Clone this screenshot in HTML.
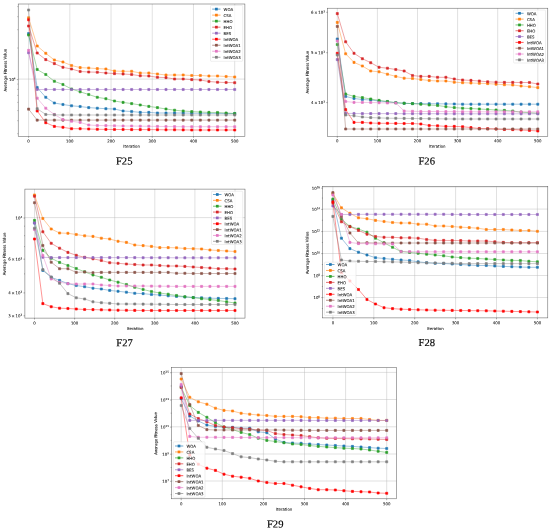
<!DOCTYPE html>
<html lang="en"><head><meta charset="utf-8"><title>Convergence curves F25-F29</title>
<style>html,body{margin:0;padding:0;background:#fff}body{width:550px;height:531px;overflow:hidden}svg{display:block}.s{font-family:"DejaVu Sans","Liberation Sans",sans-serif;font-size:3.9px;fill:#111;stroke:#111;stroke-width:0.07px}.t{font-family:"Liberation Serif","DejaVu Serif",serif;font-size:10.6px;fill:#000;stroke:#000;stroke-width:0.15px}text{text-rendering:geometricPrecision}</style></head><body>
<svg width="550" height="531" viewBox="0 0 550 531">
<rect width="550" height="531" fill="#fff"/>
<g id="F25">
<defs><clipPath id="cp0"><rect x="18.2" y="4" width="226.7" height="132.4"/></clipPath></defs>
<path d="M28.6 4V136.4M69.82 4V136.4M111.04 4V136.4M152.26 4V136.4M193.48 4V136.4M234.7 4V136.4M18.2 79.1H244.9" stroke="#b8b8b8" stroke-width="0.42" fill="none"/>
<g clip-path="url(#cp0)">
<polyline points="28.6,33.6 37.19,87.6 45.78,97.3 54.36,103 62.95,104.5 71.54,105.8 80.12,106.5 88.71,107.6 97.3,108.2 105.89,108.7 114.47,109 123.06,111 131.65,111.5 140.24,112.4 148.83,112.4 157.41,113 166,113 174.59,113 183.18,113 191.76,113.2 200.35,113.3 208.94,113.4 217.53,113.5 226.11,113.6 234.7,113.6" fill="none" stroke="#1f77b4" stroke-width="0.42" stroke-linejoin="round"/>
<path d="M27.55 32.55h2.1v2.1h-2.1zM36.14 86.55h2.1v2.1h-2.1zM44.73 96.25h2.1v2.1h-2.1zM53.31 101.95h2.1v2.1h-2.1zM61.9 103.45h2.1v2.1h-2.1zM70.49 104.75h2.1v2.1h-2.1zM79.08 105.45h2.1v2.1h-2.1zM87.66 106.55h2.1v2.1h-2.1zM96.25 107.15h2.1v2.1h-2.1zM104.84 107.65h2.1v2.1h-2.1zM113.42 107.95h2.1v2.1h-2.1zM122.01 109.95h2.1v2.1h-2.1zM130.6 110.45h2.1v2.1h-2.1zM139.19 111.35h2.1v2.1h-2.1zM147.78 111.35h2.1v2.1h-2.1zM156.36 111.95h2.1v2.1h-2.1zM164.95 111.95h2.1v2.1h-2.1zM173.54 111.95h2.1v2.1h-2.1zM182.12 111.95h2.1v2.1h-2.1zM190.71 112.15h2.1v2.1h-2.1zM199.3 112.25h2.1v2.1h-2.1zM207.89 112.35h2.1v2.1h-2.1zM216.47 112.45h2.1v2.1h-2.1zM225.06 112.55h2.1v2.1h-2.1zM233.65 112.55h2.1v2.1h-2.1z" fill="#1f77b4" stroke="#1f77b4" stroke-width="0.6" stroke-linejoin="round"/>
<polyline points="28.6,17.8 37.19,46 45.78,53.3 54.36,60 62.95,62 71.54,65.5 80.12,67.6 88.71,68 97.3,68.6 105.89,69 114.47,71 123.06,71.3 131.65,71.3 140.24,73 148.83,73 157.41,74 166,75 174.59,75 183.18,75 191.76,75.5 200.35,75.5 208.94,76 217.53,76 226.11,76.5 234.7,77" fill="none" stroke="#ff7f0e" stroke-width="0.42" stroke-linejoin="round"/>
<path d="M27.55 16.75h2.1v2.1h-2.1zM36.14 44.95h2.1v2.1h-2.1zM44.73 52.25h2.1v2.1h-2.1zM53.31 58.95h2.1v2.1h-2.1zM61.9 60.95h2.1v2.1h-2.1zM70.49 64.45h2.1v2.1h-2.1zM79.08 66.55h2.1v2.1h-2.1zM87.66 66.95h2.1v2.1h-2.1zM96.25 67.55h2.1v2.1h-2.1zM104.84 67.95h2.1v2.1h-2.1zM113.42 69.95h2.1v2.1h-2.1zM122.01 70.25h2.1v2.1h-2.1zM130.6 70.25h2.1v2.1h-2.1zM139.19 71.95h2.1v2.1h-2.1zM147.78 71.95h2.1v2.1h-2.1zM156.36 72.95h2.1v2.1h-2.1zM164.95 73.95h2.1v2.1h-2.1zM173.54 73.95h2.1v2.1h-2.1zM182.12 73.95h2.1v2.1h-2.1zM190.71 74.45h2.1v2.1h-2.1zM199.3 74.45h2.1v2.1h-2.1zM207.89 74.95h2.1v2.1h-2.1zM216.47 74.95h2.1v2.1h-2.1zM225.06 75.45h2.1v2.1h-2.1zM233.65 75.95h2.1v2.1h-2.1z" fill="#ff7f0e" stroke="#ff7f0e" stroke-width="0.6" stroke-linejoin="round"/>
<polyline points="28.6,35 37.19,69.5 45.78,74.5 54.36,81.3 62.95,84.5 71.54,89 80.12,91.8 88.71,94.5 97.3,97.3 105.89,98.7 114.47,101 123.06,102.4 131.65,103.6 140.24,105 148.83,106.4 157.41,107.6 166,109 174.59,110.2 183.18,111 191.76,111.6 200.35,112 208.94,112.4 217.53,112.5 226.11,113 234.7,113.5" fill="none" stroke="#2ca02c" stroke-width="0.42" stroke-linejoin="round"/>
<path d="M27.55 33.95h2.1v2.1h-2.1zM36.14 68.45h2.1v2.1h-2.1zM44.73 73.45h2.1v2.1h-2.1zM53.31 80.25h2.1v2.1h-2.1zM61.9 83.45h2.1v2.1h-2.1zM70.49 87.95h2.1v2.1h-2.1zM79.08 90.75h2.1v2.1h-2.1zM87.66 93.45h2.1v2.1h-2.1zM96.25 96.25h2.1v2.1h-2.1zM104.84 97.65h2.1v2.1h-2.1zM113.42 99.95h2.1v2.1h-2.1zM122.01 101.35h2.1v2.1h-2.1zM130.6 102.55h2.1v2.1h-2.1zM139.19 103.95h2.1v2.1h-2.1zM147.78 105.35h2.1v2.1h-2.1zM156.36 106.55h2.1v2.1h-2.1zM164.95 107.95h2.1v2.1h-2.1zM173.54 109.15h2.1v2.1h-2.1zM182.12 109.95h2.1v2.1h-2.1zM190.71 110.55h2.1v2.1h-2.1zM199.3 110.95h2.1v2.1h-2.1zM207.89 111.35h2.1v2.1h-2.1zM216.47 111.45h2.1v2.1h-2.1zM225.06 111.95h2.1v2.1h-2.1zM233.65 112.45h2.1v2.1h-2.1z" fill="#2ca02c" stroke="#2ca02c" stroke-width="0.6" stroke-linejoin="round"/>
<polyline points="28.6,26 37.19,53 45.78,59.6 54.36,63.6 62.95,67.3 71.54,69 80.12,71.5 88.71,72 97.3,72.2 105.89,73 114.47,73.6 123.06,74 131.65,74.5 140.24,75.8 148.83,76 157.41,77.3 166,77.6 174.59,79 183.18,79 191.76,79.6 200.35,80 208.94,81.5 217.53,82.2 226.11,82.5 234.7,82.7" fill="none" stroke="#d62728" stroke-width="0.42" stroke-linejoin="round"/>
<path d="M27.55 24.95h2.1v2.1h-2.1zM36.14 51.95h2.1v2.1h-2.1zM44.73 58.55h2.1v2.1h-2.1zM53.31 62.55h2.1v2.1h-2.1zM61.9 66.25h2.1v2.1h-2.1zM70.49 67.95h2.1v2.1h-2.1zM79.08 70.45h2.1v2.1h-2.1zM87.66 70.95h2.1v2.1h-2.1zM96.25 71.15h2.1v2.1h-2.1zM104.84 71.95h2.1v2.1h-2.1zM113.42 72.55h2.1v2.1h-2.1zM122.01 72.95h2.1v2.1h-2.1zM130.6 73.45h2.1v2.1h-2.1zM139.19 74.75h2.1v2.1h-2.1zM147.78 74.95h2.1v2.1h-2.1zM156.36 76.25h2.1v2.1h-2.1zM164.95 76.55h2.1v2.1h-2.1zM173.54 77.95h2.1v2.1h-2.1zM182.12 77.95h2.1v2.1h-2.1zM190.71 78.55h2.1v2.1h-2.1zM199.3 78.95h2.1v2.1h-2.1zM207.89 80.45h2.1v2.1h-2.1zM216.47 81.15h2.1v2.1h-2.1zM225.06 81.45h2.1v2.1h-2.1zM233.65 81.65h2.1v2.1h-2.1z" fill="#d62728" stroke="#d62728" stroke-width="0.6" stroke-linejoin="round"/>
<polyline points="28.6,52.7 37.19,89.5 45.78,89.5 54.36,89.5 62.95,89.5 71.54,89.5 80.12,89.5 88.71,89.5 97.3,89.5 105.89,89.5 114.47,89.5 123.06,89.5 131.65,89.5 140.24,89.5 148.83,89.5 157.41,89.5 166,89.5 174.59,89.5 183.18,89.5 191.76,89.5 200.35,89.5 208.94,89.5 217.53,89.5 226.11,89.5 234.7,89.5" fill="none" stroke="#9467bd" stroke-width="0.42" stroke-linejoin="round"/>
<path d="M27.55 51.65h2.1v2.1h-2.1zM36.14 88.45h2.1v2.1h-2.1zM44.73 88.45h2.1v2.1h-2.1zM53.31 88.45h2.1v2.1h-2.1zM61.9 88.45h2.1v2.1h-2.1zM70.49 88.45h2.1v2.1h-2.1zM79.08 88.45h2.1v2.1h-2.1zM87.66 88.45h2.1v2.1h-2.1zM96.25 88.45h2.1v2.1h-2.1zM104.84 88.45h2.1v2.1h-2.1zM113.42 88.45h2.1v2.1h-2.1zM122.01 88.45h2.1v2.1h-2.1zM130.6 88.45h2.1v2.1h-2.1zM139.19 88.45h2.1v2.1h-2.1zM147.78 88.45h2.1v2.1h-2.1zM156.36 88.45h2.1v2.1h-2.1zM164.95 88.45h2.1v2.1h-2.1zM173.54 88.45h2.1v2.1h-2.1zM182.12 88.45h2.1v2.1h-2.1zM190.71 88.45h2.1v2.1h-2.1zM199.3 88.45h2.1v2.1h-2.1zM207.89 88.45h2.1v2.1h-2.1zM216.47 88.45h2.1v2.1h-2.1zM225.06 88.45h2.1v2.1h-2.1zM233.65 88.45h2.1v2.1h-2.1z" fill="#9467bd" stroke="#9467bd" stroke-width="0.6" stroke-linejoin="round"/>
<polyline points="28.6,19.8 37.19,111 45.78,122.7 54.36,126.4 62.95,127.3 71.54,128.7 80.12,128.7 88.71,129 97.3,129.3 105.89,129.4 114.47,129.5 123.06,129.5 131.65,129.6 140.24,129.6 148.83,129.6 157.41,129.7 166,129.8 174.59,129.8 183.18,129.9 191.76,130 200.35,130 208.94,130 217.53,130 226.11,130 234.7,130" fill="none" stroke="#ff0000" stroke-width="0.42" stroke-linejoin="round"/>
<path d="M27.55 18.75h2.1v2.1h-2.1zM36.14 109.95h2.1v2.1h-2.1zM44.73 121.65h2.1v2.1h-2.1zM53.31 125.35h2.1v2.1h-2.1zM61.9 126.25h2.1v2.1h-2.1zM70.49 127.65h2.1v2.1h-2.1zM79.08 127.65h2.1v2.1h-2.1zM87.66 127.95h2.1v2.1h-2.1zM96.25 128.25h2.1v2.1h-2.1zM104.84 128.35h2.1v2.1h-2.1zM113.42 128.45h2.1v2.1h-2.1zM122.01 128.45h2.1v2.1h-2.1zM130.6 128.55h2.1v2.1h-2.1zM139.19 128.55h2.1v2.1h-2.1zM147.78 128.55h2.1v2.1h-2.1zM156.36 128.65h2.1v2.1h-2.1zM164.95 128.75h2.1v2.1h-2.1zM173.54 128.75h2.1v2.1h-2.1zM182.12 128.85h2.1v2.1h-2.1zM190.71 128.95h2.1v2.1h-2.1zM199.3 128.95h2.1v2.1h-2.1zM207.89 128.95h2.1v2.1h-2.1zM216.47 128.95h2.1v2.1h-2.1zM225.06 128.95h2.1v2.1h-2.1zM233.65 128.95h2.1v2.1h-2.1z" fill="#ff0000" stroke="#ff0000" stroke-width="0.6" stroke-linejoin="round"/>
<polyline points="28.6,109.1 37.19,120.1 45.78,120.1 54.36,120.1 62.95,120.1 71.54,120.1 80.12,120.1 88.71,120.1 97.3,120.1 105.89,120.1 114.47,120.1 123.06,120.1 131.65,120.1 140.24,120.1 148.83,120.1 157.41,120.1 166,120.1 174.59,120.1 183.18,120.1 191.76,120.1 200.35,120.1 208.94,120.1 217.53,120.1 226.11,120.1 234.7,120.1" fill="none" stroke="#8c564b" stroke-width="0.42" stroke-linejoin="round"/>
<path d="M27.55 108.05h2.1v2.1h-2.1zM36.14 119.05h2.1v2.1h-2.1zM44.73 119.05h2.1v2.1h-2.1zM53.31 119.05h2.1v2.1h-2.1zM61.9 119.05h2.1v2.1h-2.1zM70.49 119.05h2.1v2.1h-2.1zM79.08 119.05h2.1v2.1h-2.1zM87.66 119.05h2.1v2.1h-2.1zM96.25 119.05h2.1v2.1h-2.1zM104.84 119.05h2.1v2.1h-2.1zM113.42 119.05h2.1v2.1h-2.1zM122.01 119.05h2.1v2.1h-2.1zM130.6 119.05h2.1v2.1h-2.1zM139.19 119.05h2.1v2.1h-2.1zM147.78 119.05h2.1v2.1h-2.1zM156.36 119.05h2.1v2.1h-2.1zM164.95 119.05h2.1v2.1h-2.1zM173.54 119.05h2.1v2.1h-2.1zM182.12 119.05h2.1v2.1h-2.1zM190.71 119.05h2.1v2.1h-2.1zM199.3 119.05h2.1v2.1h-2.1zM207.89 119.05h2.1v2.1h-2.1zM216.47 119.05h2.1v2.1h-2.1zM225.06 119.05h2.1v2.1h-2.1zM233.65 119.05h2.1v2.1h-2.1z" fill="#8c564b" stroke="#8c564b" stroke-width="0.6" stroke-linejoin="round"/>
<polyline points="28.6,50.4 37.19,98.2 45.78,108.2 54.36,114.5 62.95,119.5 71.54,121.3 80.12,122.4 88.71,125 97.3,125.5 105.89,125.6 114.47,125.8 123.06,126 131.65,126 140.24,126.2 148.83,126.3 157.41,126.4 166,126.5 174.59,126.6 183.18,126.7 191.76,126.7 200.35,126.7 208.94,126.7 217.53,126.7 226.11,126.7 234.7,126.7" fill="none" stroke="#e377c2" stroke-width="0.42" stroke-linejoin="round"/>
<path d="M27.55 49.35h2.1v2.1h-2.1zM36.14 97.15h2.1v2.1h-2.1zM44.73 107.15h2.1v2.1h-2.1zM53.31 113.45h2.1v2.1h-2.1zM61.9 118.45h2.1v2.1h-2.1zM70.49 120.25h2.1v2.1h-2.1zM79.08 121.35h2.1v2.1h-2.1zM87.66 123.95h2.1v2.1h-2.1zM96.25 124.45h2.1v2.1h-2.1zM104.84 124.55h2.1v2.1h-2.1zM113.42 124.75h2.1v2.1h-2.1zM122.01 124.95h2.1v2.1h-2.1zM130.6 124.95h2.1v2.1h-2.1zM139.19 125.15h2.1v2.1h-2.1zM147.78 125.25h2.1v2.1h-2.1zM156.36 125.35h2.1v2.1h-2.1zM164.95 125.45h2.1v2.1h-2.1zM173.54 125.55h2.1v2.1h-2.1zM182.12 125.65h2.1v2.1h-2.1zM190.71 125.65h2.1v2.1h-2.1zM199.3 125.65h2.1v2.1h-2.1zM207.89 125.65h2.1v2.1h-2.1zM216.47 125.65h2.1v2.1h-2.1zM225.06 125.65h2.1v2.1h-2.1zM233.65 125.65h2.1v2.1h-2.1z" fill="#e377c2" stroke="#e377c2" stroke-width="0.6" stroke-linejoin="round"/>
<polyline points="28.6,10 37.19,108.7 45.78,114.5 54.36,114.8 62.95,115 71.54,115 80.12,115 88.71,115 97.3,115 105.89,115 114.47,115 123.06,115 131.65,115 140.24,115 148.83,115 157.41,115 166,115 174.59,115 183.18,115 191.76,115 200.35,115 208.94,115 217.53,115 226.11,115 234.7,115" fill="none" stroke="#7f7f7f" stroke-width="0.42" stroke-linejoin="round"/>
<path d="M27.55 8.95h2.1v2.1h-2.1zM36.14 107.65h2.1v2.1h-2.1zM44.73 113.45h2.1v2.1h-2.1zM53.31 113.75h2.1v2.1h-2.1zM61.9 113.95h2.1v2.1h-2.1zM70.49 113.95h2.1v2.1h-2.1zM79.08 113.95h2.1v2.1h-2.1zM87.66 113.95h2.1v2.1h-2.1zM96.25 113.95h2.1v2.1h-2.1zM104.84 113.95h2.1v2.1h-2.1zM113.42 113.95h2.1v2.1h-2.1zM122.01 113.95h2.1v2.1h-2.1zM130.6 113.95h2.1v2.1h-2.1zM139.19 113.95h2.1v2.1h-2.1zM147.78 113.95h2.1v2.1h-2.1zM156.36 113.95h2.1v2.1h-2.1zM164.95 113.95h2.1v2.1h-2.1zM173.54 113.95h2.1v2.1h-2.1zM182.12 113.95h2.1v2.1h-2.1zM190.71 113.95h2.1v2.1h-2.1zM199.3 113.95h2.1v2.1h-2.1zM207.89 113.95h2.1v2.1h-2.1zM216.47 113.95h2.1v2.1h-2.1zM225.06 113.95h2.1v2.1h-2.1zM233.65 113.95h2.1v2.1h-2.1z" fill="#7f7f7f" stroke="#7f7f7f" stroke-width="0.6" stroke-linejoin="round"/>
</g>
<rect x="18.2" y="4" width="226.7" height="132.4" fill="none" stroke="#555" stroke-width="0.5"/>
<path d="M28.6 136.4v1.4M69.82 136.4v1.4M111.04 136.4v1.4M152.26 136.4v1.4M193.48 136.4v1.4M234.7 136.4v1.4M18.2 79.6h-1.4M18.2 6.6h-0.8M18.2 16.7h-0.8M18.2 29.7h-0.8M18.2 48h-0.8M18.2 84.1h-0.8M18.2 89.4h-0.8M18.2 95.4h-0.8M18.2 102.4h-0.8M18.2 110.6h-0.8M18.2 120.7h-0.8M18.2 133.7h-0.8" stroke="#333" stroke-width="0.4" fill="none"/>
<text class="s" transform="translate(28.6 142.43) rotate(0.03)" text-anchor="middle">0</text>
<text class="s" transform="translate(69.82 142.43) rotate(0.03)" text-anchor="middle">100</text>
<text class="s" transform="translate(111.04 142.43) rotate(0.03)" text-anchor="middle">200</text>
<text class="s" transform="translate(152.26 142.43) rotate(0.03)" text-anchor="middle">300</text>
<text class="s" transform="translate(193.48 142.43) rotate(0.03)" text-anchor="middle">400</text>
<text class="s" transform="translate(234.7 142.43) rotate(0.03)" text-anchor="middle">500</text>
<text class="s" transform="translate(15.6 81.03) rotate(0.03)" text-anchor="end">10<tspan dy="-1.5" font-size="2.73">4</tspan></text>
<text class="s" transform="translate(131.6 147.73) rotate(0.03)" text-anchor="middle">Iteration</text>
<text class="s" transform="translate(6.63 70.2) rotate(-90.03)" text-anchor="middle">Average Fitness Value</text>
<rect x="210.5" y="5.5" width="32.2" height="55.8" rx="0.8" fill="#fff" fill-opacity="0.8" stroke="#d6d6d6" stroke-width="0.4"/>
<path d="M212.2 9.1H220.5" stroke="#1f77b4" stroke-width="0.65"/>
<rect x="215.05" y="7.75" width="2.7" height="2.7" fill="#1f77b4"/>
<text class="s" transform="translate(223.6 10.93) rotate(0.03)">WOA</text>
<path d="M212.2 15.12H220.5" stroke="#ff7f0e" stroke-width="0.65"/>
<rect x="215.05" y="13.77" width="2.7" height="2.7" fill="#ff7f0e"/>
<text class="s" transform="translate(223.6 16.95) rotate(0.03)">CSA</text>
<path d="M212.2 21.14H220.5" stroke="#2ca02c" stroke-width="0.65"/>
<rect x="215.05" y="19.79" width="2.7" height="2.7" fill="#2ca02c"/>
<text class="s" transform="translate(223.6 22.97) rotate(0.03)">HHO</text>
<path d="M212.2 27.16H220.5" stroke="#d62728" stroke-width="0.65"/>
<rect x="215.05" y="25.81" width="2.7" height="2.7" fill="#d62728"/>
<text class="s" transform="translate(223.6 28.99) rotate(0.03)">EHO</text>
<path d="M212.2 33.18H220.5" stroke="#9467bd" stroke-width="0.65"/>
<rect x="215.05" y="31.83" width="2.7" height="2.7" fill="#9467bd"/>
<text class="s" transform="translate(223.6 35.01) rotate(0.03)">BES</text>
<path d="M212.2 39.2H220.5" stroke="#ff0000" stroke-width="0.65"/>
<rect x="215.05" y="37.85" width="2.7" height="2.7" fill="#ff0000"/>
<text class="s" transform="translate(223.6 41.03) rotate(0.03)">IntWOA</text>
<path d="M212.2 45.22H220.5" stroke="#8c564b" stroke-width="0.65"/>
<rect x="215.05" y="43.87" width="2.7" height="2.7" fill="#8c564b"/>
<text class="s" transform="translate(223.6 47.05) rotate(0.03)">IntWOA1</text>
<path d="M212.2 51.24H220.5" stroke="#e377c2" stroke-width="0.65"/>
<rect x="215.05" y="49.89" width="2.7" height="2.7" fill="#e377c2"/>
<text class="s" transform="translate(223.6 53.07) rotate(0.03)">IntWOA2</text>
<path d="M212.2 57.26H220.5" stroke="#7f7f7f" stroke-width="0.65"/>
<rect x="215.05" y="55.91" width="2.7" height="2.7" fill="#7f7f7f"/>
<text class="s" transform="translate(223.6 59.09) rotate(0.03)">IntWOA3</text>
<text class="t" transform="translate(124.2 164.45) rotate(0.03)" text-anchor="middle">F25</text>
</g>
<g id="F26">
<defs><clipPath id="cp1"><rect x="327.6" y="8.2" width="220.2" height="128.2"/></clipPath></defs>
<path d="M337.3 8.2V136.4M377.4 8.2V136.4M417.5 8.2V136.4M457.6 8.2V136.4M497.7 8.2V136.4M537.8 8.2V136.4" stroke="#b8b8b8" stroke-width="0.42" fill="none"/>
<g clip-path="url(#cp1)">
<polyline points="337.3,39 345.65,96.4 354.01,98.5 362.36,99.5 370.72,100 379.07,101 387.43,101.8 395.78,102.7 404.13,103.3 412.49,103.6 420.84,103.6 429.2,103.7 437.55,103.8 445.9,103.9 454.26,104 462.61,104.2 470.97,104.2 479.32,104.2 487.67,104.2 496.03,104.2 504.38,104.2 512.74,104.2 521.09,104.2 529.45,104.2 537.8,104.2" fill="none" stroke="#1f77b4" stroke-width="0.42" stroke-linejoin="round"/>
<path d="M336.25 37.95h2.1v2.1h-2.1zM344.6 95.35h2.1v2.1h-2.1zM352.96 97.45h2.1v2.1h-2.1zM361.31 98.45h2.1v2.1h-2.1zM369.67 98.95h2.1v2.1h-2.1zM378.02 99.95h2.1v2.1h-2.1zM386.38 100.75h2.1v2.1h-2.1zM394.73 101.65h2.1v2.1h-2.1zM403.08 102.25h2.1v2.1h-2.1zM411.44 102.55h2.1v2.1h-2.1zM419.79 102.55h2.1v2.1h-2.1zM428.15 102.65h2.1v2.1h-2.1zM436.5 102.75h2.1v2.1h-2.1zM444.85 102.85h2.1v2.1h-2.1zM453.21 102.95h2.1v2.1h-2.1zM461.56 103.15h2.1v2.1h-2.1zM469.92 103.15h2.1v2.1h-2.1zM478.27 103.15h2.1v2.1h-2.1zM486.62 103.15h2.1v2.1h-2.1zM494.98 103.15h2.1v2.1h-2.1zM503.33 103.15h2.1v2.1h-2.1zM511.69 103.15h2.1v2.1h-2.1zM520.04 103.15h2.1v2.1h-2.1zM528.4 103.15h2.1v2.1h-2.1zM536.75 103.15h2.1v2.1h-2.1z" fill="#1f77b4" stroke="#1f77b4" stroke-width="0.6" stroke-linejoin="round"/>
<polyline points="337.3,22.4 345.65,53.8 354.01,62.4 362.36,66 370.72,71 379.07,71.8 387.43,74.2 395.78,76.4 404.13,78.2 412.49,78.5 420.84,79.5 429.2,80.5 437.55,81 445.9,81 454.26,82.2 462.61,82.7 470.97,83 479.32,83.3 487.67,83.6 496.03,84.2 504.38,84.7 512.74,85 521.09,86 529.45,86.7 537.8,87.6" fill="none" stroke="#ff7f0e" stroke-width="0.42" stroke-linejoin="round"/>
<path d="M336.25 21.35h2.1v2.1h-2.1zM344.6 52.75h2.1v2.1h-2.1zM352.96 61.35h2.1v2.1h-2.1zM361.31 64.95h2.1v2.1h-2.1zM369.67 69.95h2.1v2.1h-2.1zM378.02 70.75h2.1v2.1h-2.1zM386.38 73.15h2.1v2.1h-2.1zM394.73 75.35h2.1v2.1h-2.1zM403.08 77.15h2.1v2.1h-2.1zM411.44 77.45h2.1v2.1h-2.1zM419.79 78.45h2.1v2.1h-2.1zM428.15 79.45h2.1v2.1h-2.1zM436.5 79.95h2.1v2.1h-2.1zM444.85 79.95h2.1v2.1h-2.1zM453.21 81.15h2.1v2.1h-2.1zM461.56 81.65h2.1v2.1h-2.1zM469.92 81.95h2.1v2.1h-2.1zM478.27 82.25h2.1v2.1h-2.1zM486.62 82.55h2.1v2.1h-2.1zM494.98 83.15h2.1v2.1h-2.1zM503.33 83.65h2.1v2.1h-2.1zM511.69 83.95h2.1v2.1h-2.1zM520.04 84.95h2.1v2.1h-2.1zM528.4 85.65h2.1v2.1h-2.1zM536.75 86.55h2.1v2.1h-2.1z" fill="#ff7f0e" stroke="#ff7f0e" stroke-width="0.6" stroke-linejoin="round"/>
<polyline points="337.3,44.5 345.65,94 354.01,96.4 362.36,97.6 370.72,99 379.07,100.4 387.43,101.5 395.78,102.7 404.13,103.3 412.49,103.6 420.84,104.2 429.2,105 437.55,105.5 445.9,106.7 454.26,107.6 462.61,108.2 470.97,108.5 479.32,109 487.67,109.5 496.03,110 504.38,110.4 512.74,111 521.09,112.2 529.45,112.7 537.8,113.3" fill="none" stroke="#2ca02c" stroke-width="0.42" stroke-linejoin="round"/>
<path d="M336.25 43.45h2.1v2.1h-2.1zM344.6 92.95h2.1v2.1h-2.1zM352.96 95.35h2.1v2.1h-2.1zM361.31 96.55h2.1v2.1h-2.1zM369.67 97.95h2.1v2.1h-2.1zM378.02 99.35h2.1v2.1h-2.1zM386.38 100.45h2.1v2.1h-2.1zM394.73 101.65h2.1v2.1h-2.1zM403.08 102.25h2.1v2.1h-2.1zM411.44 102.55h2.1v2.1h-2.1zM419.79 103.15h2.1v2.1h-2.1zM428.15 103.95h2.1v2.1h-2.1zM436.5 104.45h2.1v2.1h-2.1zM444.85 105.65h2.1v2.1h-2.1zM453.21 106.55h2.1v2.1h-2.1zM461.56 107.15h2.1v2.1h-2.1zM469.92 107.45h2.1v2.1h-2.1zM478.27 107.95h2.1v2.1h-2.1zM486.62 108.45h2.1v2.1h-2.1zM494.98 108.95h2.1v2.1h-2.1zM503.33 109.35h2.1v2.1h-2.1zM511.69 109.95h2.1v2.1h-2.1zM520.04 111.15h2.1v2.1h-2.1zM528.4 111.65h2.1v2.1h-2.1zM536.75 112.25h2.1v2.1h-2.1z" fill="#2ca02c" stroke="#2ca02c" stroke-width="0.6" stroke-linejoin="round"/>
<polyline points="337.3,13.6 345.65,41.8 354.01,53.3 362.36,58.7 370.72,62.7 379.07,67.3 387.43,68.2 395.78,69.5 404.13,71 412.49,75.5 420.84,76.4 429.2,76.4 437.55,77.3 445.9,77.3 454.26,79 462.61,80 470.97,80.4 479.32,81 487.67,81.8 496.03,82.2 504.38,82.4 512.74,82.4 521.09,82.5 529.45,82.5 537.8,84" fill="none" stroke="#d62728" stroke-width="0.42" stroke-linejoin="round"/>
<path d="M336.25 12.55h2.1v2.1h-2.1zM344.6 40.75h2.1v2.1h-2.1zM352.96 52.25h2.1v2.1h-2.1zM361.31 57.65h2.1v2.1h-2.1zM369.67 61.65h2.1v2.1h-2.1zM378.02 66.25h2.1v2.1h-2.1zM386.38 67.15h2.1v2.1h-2.1zM394.73 68.45h2.1v2.1h-2.1zM403.08 69.95h2.1v2.1h-2.1zM411.44 74.45h2.1v2.1h-2.1zM419.79 75.35h2.1v2.1h-2.1zM428.15 75.35h2.1v2.1h-2.1zM436.5 76.25h2.1v2.1h-2.1zM444.85 76.25h2.1v2.1h-2.1zM453.21 77.95h2.1v2.1h-2.1zM461.56 78.95h2.1v2.1h-2.1zM469.92 79.35h2.1v2.1h-2.1zM478.27 79.95h2.1v2.1h-2.1zM486.62 80.75h2.1v2.1h-2.1zM494.98 81.15h2.1v2.1h-2.1zM503.33 81.35h2.1v2.1h-2.1zM511.69 81.35h2.1v2.1h-2.1zM520.04 81.45h2.1v2.1h-2.1zM528.4 81.45h2.1v2.1h-2.1zM536.75 82.95h2.1v2.1h-2.1z" fill="#d62728" stroke="#d62728" stroke-width="0.6" stroke-linejoin="round"/>
<polyline points="337.3,59.6 345.65,113.3 354.01,113.5 362.36,113.6 370.72,113.6 379.07,113.6 387.43,113.6 395.78,113.6 404.13,113.7 412.49,113.7 420.84,113.7 429.2,113.7 437.55,113.7 445.9,113.8 454.26,113.8 462.61,113.8 470.97,113.8 479.32,113.8 487.67,113.8 496.03,113.8 504.38,113.8 512.74,113.8 521.09,113.8 529.45,113.8 537.8,113.8" fill="none" stroke="#9467bd" stroke-width="0.42" stroke-linejoin="round"/>
<path d="M336.25 58.55h2.1v2.1h-2.1zM344.6 112.25h2.1v2.1h-2.1zM352.96 112.45h2.1v2.1h-2.1zM361.31 112.55h2.1v2.1h-2.1zM369.67 112.55h2.1v2.1h-2.1zM378.02 112.55h2.1v2.1h-2.1zM386.38 112.55h2.1v2.1h-2.1zM394.73 112.55h2.1v2.1h-2.1zM403.08 112.65h2.1v2.1h-2.1zM411.44 112.65h2.1v2.1h-2.1zM419.79 112.65h2.1v2.1h-2.1zM428.15 112.65h2.1v2.1h-2.1zM436.5 112.65h2.1v2.1h-2.1zM444.85 112.75h2.1v2.1h-2.1zM453.21 112.75h2.1v2.1h-2.1zM461.56 112.75h2.1v2.1h-2.1zM469.92 112.75h2.1v2.1h-2.1zM478.27 112.75h2.1v2.1h-2.1zM486.62 112.75h2.1v2.1h-2.1zM494.98 112.75h2.1v2.1h-2.1zM503.33 112.75h2.1v2.1h-2.1zM511.69 112.75h2.1v2.1h-2.1zM520.04 112.75h2.1v2.1h-2.1zM528.4 112.75h2.1v2.1h-2.1zM536.75 112.75h2.1v2.1h-2.1z" fill="#9467bd" stroke="#9467bd" stroke-width="0.6" stroke-linejoin="round"/>
<polyline points="337.3,53.3 345.65,109.6 354.01,122.4 362.36,122.4 370.72,123 379.07,123.3 387.43,123.3 395.78,123.4 404.13,123.5 412.49,123.5 420.84,124 429.2,125.5 437.55,125.8 445.9,126.4 454.26,126.4 462.61,126.7 470.97,127.6 479.32,128.5 487.67,128.7 496.03,129 504.38,129.5 512.74,129.6 521.09,130 529.45,130.4 537.8,131" fill="none" stroke="#ff0000" stroke-width="0.42" stroke-linejoin="round"/>
<path d="M336.25 52.25h2.1v2.1h-2.1zM344.6 108.55h2.1v2.1h-2.1zM352.96 121.35h2.1v2.1h-2.1zM361.31 121.35h2.1v2.1h-2.1zM369.67 121.95h2.1v2.1h-2.1zM378.02 122.25h2.1v2.1h-2.1zM386.38 122.25h2.1v2.1h-2.1zM394.73 122.35h2.1v2.1h-2.1zM403.08 122.45h2.1v2.1h-2.1zM411.44 122.45h2.1v2.1h-2.1zM419.79 122.95h2.1v2.1h-2.1zM428.15 124.45h2.1v2.1h-2.1zM436.5 124.75h2.1v2.1h-2.1zM444.85 125.35h2.1v2.1h-2.1zM453.21 125.35h2.1v2.1h-2.1zM461.56 125.65h2.1v2.1h-2.1zM469.92 126.55h2.1v2.1h-2.1zM478.27 127.45h2.1v2.1h-2.1zM486.62 127.65h2.1v2.1h-2.1zM494.98 127.95h2.1v2.1h-2.1zM503.33 128.45h2.1v2.1h-2.1zM511.69 128.55h2.1v2.1h-2.1zM520.04 128.95h2.1v2.1h-2.1zM528.4 129.35h2.1v2.1h-2.1zM536.75 129.95h2.1v2.1h-2.1z" fill="#ff0000" stroke="#ff0000" stroke-width="0.6" stroke-linejoin="round"/>
<polyline points="337.3,26.4 345.65,129 354.01,129 362.36,129 370.72,129 379.07,129 387.43,129 395.78,129 404.13,129 412.49,129 420.84,129 429.2,129 437.55,129 445.9,129 454.26,129 462.61,129 470.97,129 479.32,129 487.67,129 496.03,129 504.38,129 512.74,129 521.09,129 529.45,129 537.8,129" fill="none" stroke="#8c564b" stroke-width="0.42" stroke-linejoin="round"/>
<path d="M336.25 25.35h2.1v2.1h-2.1zM344.6 127.95h2.1v2.1h-2.1zM352.96 127.95h2.1v2.1h-2.1zM361.31 127.95h2.1v2.1h-2.1zM369.67 127.95h2.1v2.1h-2.1zM378.02 127.95h2.1v2.1h-2.1zM386.38 127.95h2.1v2.1h-2.1zM394.73 127.95h2.1v2.1h-2.1zM403.08 127.95h2.1v2.1h-2.1zM411.44 127.95h2.1v2.1h-2.1zM419.79 127.95h2.1v2.1h-2.1zM428.15 127.95h2.1v2.1h-2.1zM436.5 127.95h2.1v2.1h-2.1zM444.85 127.95h2.1v2.1h-2.1zM453.21 127.95h2.1v2.1h-2.1zM461.56 127.95h2.1v2.1h-2.1zM469.92 127.95h2.1v2.1h-2.1zM478.27 127.95h2.1v2.1h-2.1zM486.62 127.95h2.1v2.1h-2.1zM494.98 127.95h2.1v2.1h-2.1zM503.33 127.95h2.1v2.1h-2.1zM511.69 127.95h2.1v2.1h-2.1zM520.04 127.95h2.1v2.1h-2.1zM528.4 127.95h2.1v2.1h-2.1zM536.75 127.95h2.1v2.1h-2.1z" fill="#8c564b" stroke="#8c564b" stroke-width="0.6" stroke-linejoin="round"/>
<polyline points="337.3,41 345.65,101.5 354.01,102.4 362.36,102.4 370.72,102.5 379.07,102.7 387.43,103 395.78,103 404.13,111 412.49,111.3 420.84,111.5 429.2,111.5 437.55,111.5 445.9,111.6 454.26,111.6 462.61,111.7 470.97,111.7 479.32,111.8 487.67,111.8 496.03,111.8 504.38,111.8 512.74,111.8 521.09,111.8 529.45,111.8 537.8,111.8" fill="none" stroke="#e377c2" stroke-width="0.42" stroke-linejoin="round"/>
<path d="M336.25 39.95h2.1v2.1h-2.1zM344.6 100.45h2.1v2.1h-2.1zM352.96 101.35h2.1v2.1h-2.1zM361.31 101.35h2.1v2.1h-2.1zM369.67 101.45h2.1v2.1h-2.1zM378.02 101.65h2.1v2.1h-2.1zM386.38 101.95h2.1v2.1h-2.1zM394.73 101.95h2.1v2.1h-2.1zM403.08 109.95h2.1v2.1h-2.1zM411.44 110.25h2.1v2.1h-2.1zM419.79 110.45h2.1v2.1h-2.1zM428.15 110.45h2.1v2.1h-2.1zM436.5 110.45h2.1v2.1h-2.1zM444.85 110.55h2.1v2.1h-2.1zM453.21 110.55h2.1v2.1h-2.1zM461.56 110.65h2.1v2.1h-2.1zM469.92 110.65h2.1v2.1h-2.1zM478.27 110.75h2.1v2.1h-2.1zM486.62 110.75h2.1v2.1h-2.1zM494.98 110.75h2.1v2.1h-2.1zM503.33 110.75h2.1v2.1h-2.1zM511.69 110.75h2.1v2.1h-2.1zM520.04 110.75h2.1v2.1h-2.1zM528.4 110.75h2.1v2.1h-2.1zM536.75 110.75h2.1v2.1h-2.1z" fill="#e377c2" stroke="#e377c2" stroke-width="0.6" stroke-linejoin="round"/>
<polyline points="337.3,55 345.65,115 354.01,115.8 362.36,117 370.72,117.6 379.07,117.9 387.43,118.2 395.78,118.3 404.13,118.4 412.49,118.5 420.84,118.6 429.2,118.7 437.55,118.8 445.9,118.9 454.26,119 462.61,119 470.97,119 479.32,119 487.67,119 496.03,119 504.38,119 512.74,119 521.09,119 529.45,119 537.8,119" fill="none" stroke="#7f7f7f" stroke-width="0.42" stroke-linejoin="round"/>
<path d="M336.25 53.95h2.1v2.1h-2.1zM344.6 113.95h2.1v2.1h-2.1zM352.96 114.75h2.1v2.1h-2.1zM361.31 115.95h2.1v2.1h-2.1zM369.67 116.55h2.1v2.1h-2.1zM378.02 116.85h2.1v2.1h-2.1zM386.38 117.15h2.1v2.1h-2.1zM394.73 117.25h2.1v2.1h-2.1zM403.08 117.35h2.1v2.1h-2.1zM411.44 117.45h2.1v2.1h-2.1zM419.79 117.55h2.1v2.1h-2.1zM428.15 117.65h2.1v2.1h-2.1zM436.5 117.75h2.1v2.1h-2.1zM444.85 117.85h2.1v2.1h-2.1zM453.21 117.95h2.1v2.1h-2.1zM461.56 117.95h2.1v2.1h-2.1zM469.92 117.95h2.1v2.1h-2.1zM478.27 117.95h2.1v2.1h-2.1zM486.62 117.95h2.1v2.1h-2.1zM494.98 117.95h2.1v2.1h-2.1zM503.33 117.95h2.1v2.1h-2.1zM511.69 117.95h2.1v2.1h-2.1zM520.04 117.95h2.1v2.1h-2.1zM528.4 117.95h2.1v2.1h-2.1zM536.75 117.95h2.1v2.1h-2.1z" fill="#7f7f7f" stroke="#7f7f7f" stroke-width="0.6" stroke-linejoin="round"/>
</g>
<rect x="327.6" y="8.2" width="220.2" height="128.2" fill="none" stroke="#555" stroke-width="0.5"/>
<path d="M337.3 136.4v1.4M377.4 136.4v1.4M417.5 136.4v1.4M457.6 136.4v1.4M497.7 136.4v1.4M537.8 136.4v1.4M327.6 12.3h-1.4M327.6 52.7h-1.4M327.6 102.6h-1.4" stroke="#333" stroke-width="0.4" fill="none"/>
<text class="s" transform="translate(337.3 142.33) rotate(0.03)" text-anchor="middle">0</text>
<text class="s" transform="translate(377.4 142.33) rotate(0.03)" text-anchor="middle">100</text>
<text class="s" transform="translate(417.5 142.33) rotate(0.03)" text-anchor="middle">200</text>
<text class="s" transform="translate(457.6 142.33) rotate(0.03)" text-anchor="middle">300</text>
<text class="s" transform="translate(497.7 142.33) rotate(0.03)" text-anchor="middle">400</text>
<text class="s" transform="translate(537.8 142.33) rotate(0.03)" text-anchor="middle">500</text>
<text class="s" transform="translate(325 13.73) rotate(0.03)" text-anchor="end">6 × 10<tspan dy="-1.5" font-size="2.73">3</tspan></text>
<text class="s" transform="translate(325 54.13) rotate(0.03)" text-anchor="end">5 × 10<tspan dy="-1.5" font-size="2.73">3</tspan></text>
<text class="s" transform="translate(325 104.03) rotate(0.03)" text-anchor="end">4 × 10<tspan dy="-1.5" font-size="2.73">3</tspan></text>
<text class="s" transform="translate(437.3 147.83) rotate(0.03)" text-anchor="middle">Iteration</text>
<text class="s" transform="translate(308.73 72.2) rotate(-90.03)" text-anchor="middle">Average Fitness Value</text>
<rect x="513.6" y="10" width="31.9" height="53" rx="0.8" fill="#fff" fill-opacity="0.8" stroke="#d6d6d6" stroke-width="0.4"/>
<path d="M515.5 13.3H523.6" stroke="#1f77b4" stroke-width="0.65"/>
<rect x="518.15" y="11.95" width="2.7" height="2.7" fill="#1f77b4"/>
<text class="s" transform="translate(526.9 15.13) rotate(0.03)">WOA</text>
<path d="M515.5 19.12H523.6" stroke="#ff7f0e" stroke-width="0.65"/>
<rect x="518.15" y="17.77" width="2.7" height="2.7" fill="#ff7f0e"/>
<text class="s" transform="translate(526.9 20.95) rotate(0.03)">CSA</text>
<path d="M515.5 24.94H523.6" stroke="#2ca02c" stroke-width="0.65"/>
<rect x="518.15" y="23.59" width="2.7" height="2.7" fill="#2ca02c"/>
<text class="s" transform="translate(526.9 26.77) rotate(0.03)">HHO</text>
<path d="M515.5 30.76H523.6" stroke="#d62728" stroke-width="0.65"/>
<rect x="518.15" y="29.41" width="2.7" height="2.7" fill="#d62728"/>
<text class="s" transform="translate(526.9 32.59) rotate(0.03)">EHO</text>
<path d="M515.5 36.58H523.6" stroke="#9467bd" stroke-width="0.65"/>
<rect x="518.15" y="35.23" width="2.7" height="2.7" fill="#9467bd"/>
<text class="s" transform="translate(526.9 38.41) rotate(0.03)">BES</text>
<path d="M515.5 42.4H523.6" stroke="#ff0000" stroke-width="0.65"/>
<rect x="518.15" y="41.05" width="2.7" height="2.7" fill="#ff0000"/>
<text class="s" transform="translate(526.9 44.23) rotate(0.03)">IntWOA</text>
<path d="M515.5 48.22H523.6" stroke="#8c564b" stroke-width="0.65"/>
<rect x="518.15" y="46.87" width="2.7" height="2.7" fill="#8c564b"/>
<text class="s" transform="translate(526.9 50.05) rotate(0.03)">IntWOA1</text>
<path d="M515.5 54.04H523.6" stroke="#e377c2" stroke-width="0.65"/>
<rect x="518.15" y="52.69" width="2.7" height="2.7" fill="#e377c2"/>
<text class="s" transform="translate(526.9 55.87) rotate(0.03)">IntWOA2</text>
<path d="M515.5 59.86H523.6" stroke="#7f7f7f" stroke-width="0.65"/>
<rect x="518.15" y="58.51" width="2.7" height="2.7" fill="#7f7f7f"/>
<text class="s" transform="translate(526.9 61.69) rotate(0.03)">IntWOA3</text>
<text class="t" transform="translate(426.7 164.45) rotate(0.03)" text-anchor="middle">F26</text>
</g>
<g id="F27">
<defs><clipPath id="cp2"><rect x="24.9" y="189.1" width="220.1" height="129"/></clipPath></defs>
<path d="M34.5 189.1V318.1M74.6 189.1V318.1M114.7 189.1V318.1M154.8 189.1V318.1M194.9 189.1V318.1M235 189.1V318.1M24.9 217.6H245" stroke="#b8b8b8" stroke-width="0.42" fill="none"/>
<g clip-path="url(#cp2)">
<polyline points="34.5,223 42.85,270.4 51.21,277.3 59.56,280.4 67.92,283.6 76.27,285.5 84.62,286.7 92.98,288.2 101.33,289 109.69,290.4 118.04,291.3 126.4,292.2 134.75,293.3 143.1,293.6 151.46,294.5 159.81,295 168.17,295.8 176.52,296.4 184.88,297 193.23,297.5 201.58,297.8 209.94,298.2 218.29,298.4 226.65,298.5 235,298.7" fill="none" stroke="#1f77b4" stroke-width="0.42" stroke-linejoin="round"/>
<path d="M33.45 221.95h2.1v2.1h-2.1zM41.8 269.35h2.1v2.1h-2.1zM50.16 276.25h2.1v2.1h-2.1zM58.51 279.35h2.1v2.1h-2.1zM66.87 282.55h2.1v2.1h-2.1zM75.22 284.45h2.1v2.1h-2.1zM83.58 285.65h2.1v2.1h-2.1zM91.93 287.15h2.1v2.1h-2.1zM100.28 287.95h2.1v2.1h-2.1zM108.64 289.35h2.1v2.1h-2.1zM116.99 290.25h2.1v2.1h-2.1zM125.35 291.15h2.1v2.1h-2.1zM133.7 292.25h2.1v2.1h-2.1zM142.05 292.55h2.1v2.1h-2.1zM150.41 293.45h2.1v2.1h-2.1zM158.76 293.95h2.1v2.1h-2.1zM167.12 294.75h2.1v2.1h-2.1zM175.47 295.35h2.1v2.1h-2.1zM183.82 295.95h2.1v2.1h-2.1zM192.18 296.45h2.1v2.1h-2.1zM200.53 296.75h2.1v2.1h-2.1zM208.89 297.15h2.1v2.1h-2.1zM217.24 297.35h2.1v2.1h-2.1zM225.6 297.45h2.1v2.1h-2.1zM233.95 297.65h2.1v2.1h-2.1z" fill="#1f77b4" stroke="#1f77b4" stroke-width="0.6" stroke-linejoin="round"/>
<polyline points="34.5,195 42.85,218.5 51.21,229 59.56,233 67.92,233.3 76.27,234.5 84.62,235.8 92.98,236.4 101.33,238.2 109.69,239 118.04,241.3 126.4,242.4 134.75,245 143.1,245.6 151.46,246.4 159.81,247.6 168.17,247.6 176.52,247.8 184.88,248.5 193.23,248.7 201.58,249 209.94,250 218.29,250.5 226.65,251 235,251.5" fill="none" stroke="#ff7f0e" stroke-width="0.42" stroke-linejoin="round"/>
<path d="M33.45 193.95h2.1v2.1h-2.1zM41.8 217.45h2.1v2.1h-2.1zM50.16 227.95h2.1v2.1h-2.1zM58.51 231.95h2.1v2.1h-2.1zM66.87 232.25h2.1v2.1h-2.1zM75.22 233.45h2.1v2.1h-2.1zM83.58 234.75h2.1v2.1h-2.1zM91.93 235.35h2.1v2.1h-2.1zM100.28 237.15h2.1v2.1h-2.1zM108.64 237.95h2.1v2.1h-2.1zM116.99 240.25h2.1v2.1h-2.1zM125.35 241.35h2.1v2.1h-2.1zM133.7 243.95h2.1v2.1h-2.1zM142.05 244.55h2.1v2.1h-2.1zM150.41 245.35h2.1v2.1h-2.1zM158.76 246.55h2.1v2.1h-2.1zM167.12 246.55h2.1v2.1h-2.1zM175.47 246.75h2.1v2.1h-2.1zM183.82 247.45h2.1v2.1h-2.1zM192.18 247.65h2.1v2.1h-2.1zM200.53 247.95h2.1v2.1h-2.1zM208.89 248.95h2.1v2.1h-2.1zM217.24 249.45h2.1v2.1h-2.1zM225.6 249.95h2.1v2.1h-2.1zM233.95 250.45h2.1v2.1h-2.1z" fill="#ff7f0e" stroke="#ff7f0e" stroke-width="0.6" stroke-linejoin="round"/>
<polyline points="34.5,220.4 42.85,250.4 51.21,258.2 59.56,262.4 67.92,265.5 76.27,268.5 84.62,271.8 92.98,275 101.33,277.3 109.69,280 118.04,282.2 126.4,284.5 134.75,287.3 143.1,289.5 151.46,291.5 159.81,293 168.17,294.2 176.52,295.5 184.88,296.7 193.23,297.6 201.58,298.7 209.94,299.6 218.29,300.5 226.65,301.8 235,303" fill="none" stroke="#2ca02c" stroke-width="0.42" stroke-linejoin="round"/>
<path d="M33.45 219.35h2.1v2.1h-2.1zM41.8 249.35h2.1v2.1h-2.1zM50.16 257.15h2.1v2.1h-2.1zM58.51 261.35h2.1v2.1h-2.1zM66.87 264.45h2.1v2.1h-2.1zM75.22 267.45h2.1v2.1h-2.1zM83.58 270.75h2.1v2.1h-2.1zM91.93 273.95h2.1v2.1h-2.1zM100.28 276.25h2.1v2.1h-2.1zM108.64 278.95h2.1v2.1h-2.1zM116.99 281.15h2.1v2.1h-2.1zM125.35 283.45h2.1v2.1h-2.1zM133.7 286.25h2.1v2.1h-2.1zM142.05 288.45h2.1v2.1h-2.1zM150.41 290.45h2.1v2.1h-2.1zM158.76 291.95h2.1v2.1h-2.1zM167.12 293.15h2.1v2.1h-2.1zM175.47 294.45h2.1v2.1h-2.1zM183.82 295.65h2.1v2.1h-2.1zM192.18 296.55h2.1v2.1h-2.1zM200.53 297.65h2.1v2.1h-2.1zM208.89 298.55h2.1v2.1h-2.1zM217.24 299.45h2.1v2.1h-2.1zM225.6 300.75h2.1v2.1h-2.1zM233.95 301.95h2.1v2.1h-2.1z" fill="#2ca02c" stroke="#2ca02c" stroke-width="0.6" stroke-linejoin="round"/>
<polyline points="34.5,196.2 42.85,231.8 51.21,243.3 59.56,248.2 67.92,252.4 76.27,255.3 84.62,257.3 92.98,258.8 101.33,260.5 109.69,262.7 118.04,263.3 126.4,264 134.75,264.5 143.1,265 151.46,265 159.81,265.5 168.17,266 176.52,266 184.88,266.4 193.23,267 201.58,267.5 209.94,268 218.29,268.7 226.65,268.7 235,269" fill="none" stroke="#d62728" stroke-width="0.42" stroke-linejoin="round"/>
<path d="M33.45 195.15h2.1v2.1h-2.1zM41.8 230.75h2.1v2.1h-2.1zM50.16 242.25h2.1v2.1h-2.1zM58.51 247.15h2.1v2.1h-2.1zM66.87 251.35h2.1v2.1h-2.1zM75.22 254.25h2.1v2.1h-2.1zM83.58 256.25h2.1v2.1h-2.1zM91.93 257.75h2.1v2.1h-2.1zM100.28 259.45h2.1v2.1h-2.1zM108.64 261.65h2.1v2.1h-2.1zM116.99 262.25h2.1v2.1h-2.1zM125.35 262.95h2.1v2.1h-2.1zM133.7 263.45h2.1v2.1h-2.1zM142.05 263.95h2.1v2.1h-2.1zM150.41 263.95h2.1v2.1h-2.1zM158.76 264.45h2.1v2.1h-2.1zM167.12 264.95h2.1v2.1h-2.1zM175.47 264.95h2.1v2.1h-2.1zM183.82 265.35h2.1v2.1h-2.1zM192.18 265.95h2.1v2.1h-2.1zM200.53 266.45h2.1v2.1h-2.1zM208.89 266.95h2.1v2.1h-2.1zM217.24 267.65h2.1v2.1h-2.1zM225.6 267.65h2.1v2.1h-2.1zM233.95 267.95h2.1v2.1h-2.1z" fill="#d62728" stroke="#d62728" stroke-width="0.6" stroke-linejoin="round"/>
<polyline points="34.5,223 42.85,257.3 51.21,257.6 59.56,257.6 67.92,257.6 76.27,257.6 84.62,257.6 92.98,257.6 101.33,257.6 109.69,257.6 118.04,257.6 126.4,257.6 134.75,257.6 143.1,257.7 151.46,257.7 159.81,257.7 168.17,257.7 176.52,257.8 184.88,257.8 193.23,257.8 201.58,257.8 209.94,257.8 218.29,257.8 226.65,257.8 235,257.8" fill="none" stroke="#9467bd" stroke-width="0.42" stroke-linejoin="round"/>
<path d="M33.45 221.95h2.1v2.1h-2.1zM41.8 256.25h2.1v2.1h-2.1zM50.16 256.55h2.1v2.1h-2.1zM58.51 256.55h2.1v2.1h-2.1zM66.87 256.55h2.1v2.1h-2.1zM75.22 256.55h2.1v2.1h-2.1zM83.58 256.55h2.1v2.1h-2.1zM91.93 256.55h2.1v2.1h-2.1zM100.28 256.55h2.1v2.1h-2.1zM108.64 256.55h2.1v2.1h-2.1zM116.99 256.55h2.1v2.1h-2.1zM125.35 256.55h2.1v2.1h-2.1zM133.7 256.55h2.1v2.1h-2.1zM142.05 256.65h2.1v2.1h-2.1zM150.41 256.65h2.1v2.1h-2.1zM158.76 256.65h2.1v2.1h-2.1zM167.12 256.65h2.1v2.1h-2.1zM175.47 256.75h2.1v2.1h-2.1zM183.82 256.75h2.1v2.1h-2.1zM192.18 256.75h2.1v2.1h-2.1zM200.53 256.75h2.1v2.1h-2.1zM208.89 256.75h2.1v2.1h-2.1zM217.24 256.75h2.1v2.1h-2.1zM225.6 256.75h2.1v2.1h-2.1zM233.95 256.75h2.1v2.1h-2.1z" fill="#9467bd" stroke="#9467bd" stroke-width="0.6" stroke-linejoin="round"/>
<polyline points="34.5,239 42.85,303.6 51.21,306.7 59.56,308.2 67.92,308.5 76.27,309 84.62,309.5 92.98,309.6 101.33,309.8 109.69,310 118.04,310.2 126.4,310.3 134.75,310.4 143.1,310.5 151.46,310.5 159.81,310.5 168.17,310.5 176.52,310.5 184.88,310.5 193.23,310.5 201.58,310.5 209.94,310.5 218.29,310.5 226.65,310.5 235,310.5" fill="none" stroke="#ff0000" stroke-width="0.42" stroke-linejoin="round"/>
<path d="M33.45 237.95h2.1v2.1h-2.1zM41.8 302.55h2.1v2.1h-2.1zM50.16 305.65h2.1v2.1h-2.1zM58.51 307.15h2.1v2.1h-2.1zM66.87 307.45h2.1v2.1h-2.1zM75.22 307.95h2.1v2.1h-2.1zM83.58 308.45h2.1v2.1h-2.1zM91.93 308.55h2.1v2.1h-2.1zM100.28 308.75h2.1v2.1h-2.1zM108.64 308.95h2.1v2.1h-2.1zM116.99 309.15h2.1v2.1h-2.1zM125.35 309.25h2.1v2.1h-2.1zM133.7 309.35h2.1v2.1h-2.1zM142.05 309.45h2.1v2.1h-2.1zM150.41 309.45h2.1v2.1h-2.1zM158.76 309.45h2.1v2.1h-2.1zM167.12 309.45h2.1v2.1h-2.1zM175.47 309.45h2.1v2.1h-2.1zM183.82 309.45h2.1v2.1h-2.1zM192.18 309.45h2.1v2.1h-2.1zM200.53 309.45h2.1v2.1h-2.1zM208.89 309.45h2.1v2.1h-2.1zM217.24 309.45h2.1v2.1h-2.1zM225.6 309.45h2.1v2.1h-2.1zM233.95 309.45h2.1v2.1h-2.1z" fill="#ff0000" stroke="#ff0000" stroke-width="0.6" stroke-linejoin="round"/>
<polyline points="34.5,202.7 42.85,245.5 51.21,262.2 59.56,268.7 67.92,268.7 76.27,272.4 84.62,272 92.98,272.7 101.33,272.4 109.69,272.4 118.04,272.4 126.4,272.4 134.75,272.4 143.1,272.4 151.46,272.4 159.81,272.4 168.17,272.4 176.52,273.3 184.88,273.3 193.23,273.5 201.58,273.5 209.94,273.5 218.29,273.5 226.65,273.5 235,273.5" fill="none" stroke="#8c564b" stroke-width="0.42" stroke-linejoin="round"/>
<path d="M33.45 201.65h2.1v2.1h-2.1zM41.8 244.45h2.1v2.1h-2.1zM50.16 261.15h2.1v2.1h-2.1zM58.51 267.65h2.1v2.1h-2.1zM66.87 267.65h2.1v2.1h-2.1zM75.22 271.35h2.1v2.1h-2.1zM83.58 270.95h2.1v2.1h-2.1zM91.93 271.65h2.1v2.1h-2.1zM100.28 271.35h2.1v2.1h-2.1zM108.64 271.35h2.1v2.1h-2.1zM116.99 271.35h2.1v2.1h-2.1zM125.35 271.35h2.1v2.1h-2.1zM133.7 271.35h2.1v2.1h-2.1zM142.05 271.35h2.1v2.1h-2.1zM150.41 271.35h2.1v2.1h-2.1zM158.76 271.35h2.1v2.1h-2.1zM167.12 271.35h2.1v2.1h-2.1zM175.47 272.25h2.1v2.1h-2.1zM183.82 272.25h2.1v2.1h-2.1zM192.18 272.45h2.1v2.1h-2.1zM200.53 272.45h2.1v2.1h-2.1zM208.89 272.45h2.1v2.1h-2.1zM217.24 272.45h2.1v2.1h-2.1zM225.6 272.45h2.1v2.1h-2.1zM233.95 272.45h2.1v2.1h-2.1z" fill="#8c564b" stroke="#8c564b" stroke-width="0.6" stroke-linejoin="round"/>
<polyline points="34.5,229.5 42.85,255.5 51.21,279 59.56,282.2 67.92,283.6 76.27,284 84.62,284 92.98,284 101.33,285 109.69,285.5 118.04,286 126.4,286 134.75,286 143.1,286 151.46,286.1 159.81,286.2 168.17,286.3 176.52,286.4 184.88,286.4 193.23,286.4 201.58,286.4 209.94,286.4 218.29,286.4 226.65,286.4 235,286.4" fill="none" stroke="#e377c2" stroke-width="0.42" stroke-linejoin="round"/>
<path d="M33.45 228.45h2.1v2.1h-2.1zM41.8 254.45h2.1v2.1h-2.1zM50.16 277.95h2.1v2.1h-2.1zM58.51 281.15h2.1v2.1h-2.1zM66.87 282.55h2.1v2.1h-2.1zM75.22 282.95h2.1v2.1h-2.1zM83.58 282.95h2.1v2.1h-2.1zM91.93 282.95h2.1v2.1h-2.1zM100.28 283.95h2.1v2.1h-2.1zM108.64 284.45h2.1v2.1h-2.1zM116.99 284.95h2.1v2.1h-2.1zM125.35 284.95h2.1v2.1h-2.1zM133.7 284.95h2.1v2.1h-2.1zM142.05 284.95h2.1v2.1h-2.1zM150.41 285.05h2.1v2.1h-2.1zM158.76 285.15h2.1v2.1h-2.1zM167.12 285.25h2.1v2.1h-2.1zM175.47 285.35h2.1v2.1h-2.1zM183.82 285.35h2.1v2.1h-2.1zM192.18 285.35h2.1v2.1h-2.1zM200.53 285.35h2.1v2.1h-2.1zM208.89 285.35h2.1v2.1h-2.1zM217.24 285.35h2.1v2.1h-2.1zM225.6 285.35h2.1v2.1h-2.1zM233.95 285.35h2.1v2.1h-2.1z" fill="#e377c2" stroke="#e377c2" stroke-width="0.6" stroke-linejoin="round"/>
<polyline points="34.5,228.2 42.85,269.6 51.21,277 59.56,283.3 67.92,293.6 76.27,297.8 84.62,299 92.98,301.8 101.33,302.7 109.69,303.3 118.04,304 126.4,304 134.75,304 143.1,304.1 151.46,304.2 159.81,304.3 168.17,304.4 176.52,304.5 184.88,304.5 193.23,304.5 201.58,304.5 209.94,304.5 218.29,304.5 226.65,304.5 235,304.5" fill="none" stroke="#7f7f7f" stroke-width="0.42" stroke-linejoin="round"/>
<path d="M33.45 227.15h2.1v2.1h-2.1zM41.8 268.55h2.1v2.1h-2.1zM50.16 275.95h2.1v2.1h-2.1zM58.51 282.25h2.1v2.1h-2.1zM66.87 292.55h2.1v2.1h-2.1zM75.22 296.75h2.1v2.1h-2.1zM83.58 297.95h2.1v2.1h-2.1zM91.93 300.75h2.1v2.1h-2.1zM100.28 301.65h2.1v2.1h-2.1zM108.64 302.25h2.1v2.1h-2.1zM116.99 302.95h2.1v2.1h-2.1zM125.35 302.95h2.1v2.1h-2.1zM133.7 302.95h2.1v2.1h-2.1zM142.05 303.05h2.1v2.1h-2.1zM150.41 303.15h2.1v2.1h-2.1zM158.76 303.25h2.1v2.1h-2.1zM167.12 303.35h2.1v2.1h-2.1zM175.47 303.45h2.1v2.1h-2.1zM183.82 303.45h2.1v2.1h-2.1zM192.18 303.45h2.1v2.1h-2.1zM200.53 303.45h2.1v2.1h-2.1zM208.89 303.45h2.1v2.1h-2.1zM217.24 303.45h2.1v2.1h-2.1zM225.6 303.45h2.1v2.1h-2.1zM233.95 303.45h2.1v2.1h-2.1z" fill="#7f7f7f" stroke="#7f7f7f" stroke-width="0.6" stroke-linejoin="round"/>
</g>
<rect x="24.9" y="189.1" width="220.1" height="129" fill="none" stroke="#555" stroke-width="0.5"/>
<path d="M34.5 318.1v1.4M74.6 318.1v1.4M114.7 318.1v1.4M154.8 318.1v1.4M194.9 318.1v1.4M235 318.1v1.4M24.9 218h-1.4M24.9 259.2h-1.4M24.9 292.9h-1.4M24.9 315.8h-1.4M24.9 226.2h-0.8M24.9 235.7h-0.8M24.9 246.6h-0.8M24.9 273.9h-0.8" stroke="#333" stroke-width="0.4" fill="none"/>
<text class="s" transform="translate(34.5 324.43) rotate(0.03)" text-anchor="middle">0</text>
<text class="s" transform="translate(74.6 324.43) rotate(0.03)" text-anchor="middle">100</text>
<text class="s" transform="translate(114.7 324.43) rotate(0.03)" text-anchor="middle">200</text>
<text class="s" transform="translate(154.8 324.43) rotate(0.03)" text-anchor="middle">300</text>
<text class="s" transform="translate(194.9 324.43) rotate(0.03)" text-anchor="middle">400</text>
<text class="s" transform="translate(235 324.43) rotate(0.03)" text-anchor="middle">500</text>
<text class="s" transform="translate(22.3 219.43) rotate(0.03)" text-anchor="end">10<tspan dy="-1.5" font-size="2.73">4</tspan></text>
<text class="s" transform="translate(22.3 260.63) rotate(0.03)" text-anchor="end">6 × 10<tspan dy="-1.5" font-size="2.73">3</tspan></text>
<text class="s" transform="translate(22.3 294.33) rotate(0.03)" text-anchor="end">4 × 10<tspan dy="-1.5" font-size="2.73">3</tspan></text>
<text class="s" transform="translate(22.3 317.23) rotate(0.03)" text-anchor="end">3 × 10<tspan dy="-1.5" font-size="2.73">3</tspan></text>
<text class="s" transform="translate(135.1 329.93) rotate(0.03)" text-anchor="middle">Iteration</text>
<text class="s" transform="translate(5.73 254) rotate(-90.03)" text-anchor="middle">Average Fitness Value</text>
<rect x="211.5" y="191.3" width="31.2" height="53.2" rx="0.8" fill="#fff" fill-opacity="0.8" stroke="#d6d6d6" stroke-width="0.4"/>
<path d="M213 194.5H221.5" stroke="#1f77b4" stroke-width="0.65"/>
<rect x="215.95" y="193.15" width="2.7" height="2.7" fill="#1f77b4"/>
<text class="s" transform="translate(224.5 196.33) rotate(0.03)">WOA</text>
<path d="M213 200.35H221.5" stroke="#ff7f0e" stroke-width="0.65"/>
<rect x="215.95" y="199" width="2.7" height="2.7" fill="#ff7f0e"/>
<text class="s" transform="translate(224.5 202.18) rotate(0.03)">CSA</text>
<path d="M213 206.2H221.5" stroke="#2ca02c" stroke-width="0.65"/>
<rect x="215.95" y="204.85" width="2.7" height="2.7" fill="#2ca02c"/>
<text class="s" transform="translate(224.5 208.03) rotate(0.03)">HHO</text>
<path d="M213 212.05H221.5" stroke="#d62728" stroke-width="0.65"/>
<rect x="215.95" y="210.7" width="2.7" height="2.7" fill="#d62728"/>
<text class="s" transform="translate(224.5 213.88) rotate(0.03)">EHO</text>
<path d="M213 217.9H221.5" stroke="#9467bd" stroke-width="0.65"/>
<rect x="215.95" y="216.55" width="2.7" height="2.7" fill="#9467bd"/>
<text class="s" transform="translate(224.5 219.73) rotate(0.03)">BES</text>
<path d="M213 223.75H221.5" stroke="#ff0000" stroke-width="0.65"/>
<rect x="215.95" y="222.4" width="2.7" height="2.7" fill="#ff0000"/>
<text class="s" transform="translate(224.5 225.58) rotate(0.03)">IntWOA</text>
<path d="M213 229.6H221.5" stroke="#8c564b" stroke-width="0.65"/>
<rect x="215.95" y="228.25" width="2.7" height="2.7" fill="#8c564b"/>
<text class="s" transform="translate(224.5 231.43) rotate(0.03)">IntWOA1</text>
<path d="M213 235.45H221.5" stroke="#e377c2" stroke-width="0.65"/>
<rect x="215.95" y="234.1" width="2.7" height="2.7" fill="#e377c2"/>
<text class="s" transform="translate(224.5 237.28) rotate(0.03)">IntWOA2</text>
<path d="M213 241.3H221.5" stroke="#7f7f7f" stroke-width="0.65"/>
<rect x="215.95" y="239.95" width="2.7" height="2.7" fill="#7f7f7f"/>
<text class="s" transform="translate(224.5 243.13) rotate(0.03)">IntWOA3</text>
<text class="t" transform="translate(124.5 346.15) rotate(0.03)" text-anchor="middle">F27</text>
</g>
<g id="F28">
<defs><clipPath id="cp3"><rect x="322.7" y="186.7" width="225.1" height="131.2"/></clipPath></defs>
<path d="M332.9 186.7V317.9M373.8 186.7V317.9M414.7 186.7V317.9M455.6 186.7V317.9M496.5 186.7V317.9M537.4 186.7V317.9M322.7 187H547.8M322.7 209.1H547.8M322.7 231.4H547.8M322.7 253.5H547.8M322.7 275.5H547.8M322.7 297.5H547.8" stroke="#b8b8b8" stroke-width="0.42" fill="none"/>
<g clip-path="url(#cp3)">
<polyline points="332.9,200.5 341.42,238.2 349.94,248.6 358.46,252.2 366.98,255 375.5,257.7 384.02,258.5 392.55,259.3 401.07,260 409.59,260.5 418.11,261.8 426.63,262.7 435.15,263.3 443.67,263.5 452.19,264 460.71,264.5 469.23,265 477.75,265.5 486.27,265.5 494.8,266 503.32,266.4 511.84,266.7 520.36,267 528.88,267.3 537.4,267.3" fill="none" stroke="#1f77b4" stroke-width="0.42" stroke-linejoin="round"/>
<path d="M331.85 199.45h2.1v2.1h-2.1zM340.37 237.15h2.1v2.1h-2.1zM348.89 247.55h2.1v2.1h-2.1zM357.41 251.15h2.1v2.1h-2.1zM365.93 253.95h2.1v2.1h-2.1zM374.45 256.65h2.1v2.1h-2.1zM382.97 257.45h2.1v2.1h-2.1zM391.5 258.25h2.1v2.1h-2.1zM400.02 258.95h2.1v2.1h-2.1zM408.54 259.45h2.1v2.1h-2.1zM417.06 260.75h2.1v2.1h-2.1zM425.58 261.65h2.1v2.1h-2.1zM434.1 262.25h2.1v2.1h-2.1zM442.62 262.45h2.1v2.1h-2.1zM451.14 262.95h2.1v2.1h-2.1zM459.66 263.45h2.1v2.1h-2.1zM468.18 263.95h2.1v2.1h-2.1zM476.7 264.45h2.1v2.1h-2.1zM485.22 264.45h2.1v2.1h-2.1zM493.75 264.95h2.1v2.1h-2.1zM502.27 265.35h2.1v2.1h-2.1zM510.79 265.65h2.1v2.1h-2.1zM519.31 265.95h2.1v2.1h-2.1zM527.83 266.25h2.1v2.1h-2.1zM536.35 266.25h2.1v2.1h-2.1z" fill="#1f77b4" stroke="#1f77b4" stroke-width="0.6" stroke-linejoin="round"/>
<polyline points="332.9,193.5 341.42,207.8 349.94,213.3 358.46,217.8 366.98,218.7 375.5,220.4 384.02,221.5 392.55,222.5 401.07,223 409.59,223 418.11,224.2 426.63,224.2 435.15,226 443.67,226 452.19,226.5 460.71,227.2 469.23,227.6 477.75,228.2 486.27,229.5 494.8,229.5 503.32,229.5 511.84,230 520.36,230.5 528.88,230.5 537.4,231.3" fill="none" stroke="#ff7f0e" stroke-width="0.42" stroke-linejoin="round"/>
<path d="M331.85 192.45h2.1v2.1h-2.1zM340.37 206.75h2.1v2.1h-2.1zM348.89 212.25h2.1v2.1h-2.1zM357.41 216.75h2.1v2.1h-2.1zM365.93 217.65h2.1v2.1h-2.1zM374.45 219.35h2.1v2.1h-2.1zM382.97 220.45h2.1v2.1h-2.1zM391.5 221.45h2.1v2.1h-2.1zM400.02 221.95h2.1v2.1h-2.1zM408.54 221.95h2.1v2.1h-2.1zM417.06 223.15h2.1v2.1h-2.1zM425.58 223.15h2.1v2.1h-2.1zM434.1 224.95h2.1v2.1h-2.1zM442.62 224.95h2.1v2.1h-2.1zM451.14 225.45h2.1v2.1h-2.1zM459.66 226.15h2.1v2.1h-2.1zM468.18 226.55h2.1v2.1h-2.1zM476.7 227.15h2.1v2.1h-2.1zM485.22 228.45h2.1v2.1h-2.1zM493.75 228.45h2.1v2.1h-2.1zM502.27 228.45h2.1v2.1h-2.1zM510.79 228.95h2.1v2.1h-2.1zM519.31 229.45h2.1v2.1h-2.1zM527.83 229.45h2.1v2.1h-2.1zM536.35 230.25h2.1v2.1h-2.1z" fill="#ff7f0e" stroke="#ff7f0e" stroke-width="0.6" stroke-linejoin="round"/>
<polyline points="332.9,199 341.42,219.2 349.94,226.4 358.46,229 366.98,232.2 375.5,238.2 384.02,242.8 392.55,247.3 401.07,251.5 409.59,252.4 418.11,253.3 426.63,254.2 435.15,255 443.67,255.8 452.19,257 460.71,257.6 469.23,258.2 477.75,258.5 486.27,259 494.8,259.5 503.32,260 511.84,260.4 520.36,260.5 528.88,261.3 537.4,261.8" fill="none" stroke="#2ca02c" stroke-width="0.42" stroke-linejoin="round"/>
<path d="M331.85 197.95h2.1v2.1h-2.1zM340.37 218.15h2.1v2.1h-2.1zM348.89 225.35h2.1v2.1h-2.1zM357.41 227.95h2.1v2.1h-2.1zM365.93 231.15h2.1v2.1h-2.1zM374.45 237.15h2.1v2.1h-2.1zM382.97 241.75h2.1v2.1h-2.1zM391.5 246.25h2.1v2.1h-2.1zM400.02 250.45h2.1v2.1h-2.1zM408.54 251.35h2.1v2.1h-2.1zM417.06 252.25h2.1v2.1h-2.1zM425.58 253.15h2.1v2.1h-2.1zM434.1 253.95h2.1v2.1h-2.1zM442.62 254.75h2.1v2.1h-2.1zM451.14 255.95h2.1v2.1h-2.1zM459.66 256.55h2.1v2.1h-2.1zM468.18 257.15h2.1v2.1h-2.1zM476.7 257.45h2.1v2.1h-2.1zM485.22 257.95h2.1v2.1h-2.1zM493.75 258.45h2.1v2.1h-2.1zM502.27 258.95h2.1v2.1h-2.1zM510.79 259.35h2.1v2.1h-2.1zM519.31 259.45h2.1v2.1h-2.1zM527.83 260.25h2.1v2.1h-2.1zM536.35 260.75h2.1v2.1h-2.1z" fill="#2ca02c" stroke="#2ca02c" stroke-width="0.6" stroke-linejoin="round"/>
<polyline points="332.9,203.3 341.42,221.8 349.94,226.7 358.46,230.4 366.98,234.2 375.5,236.5 384.02,237.3 392.55,237.3 401.07,237.8 409.59,237.8 418.11,238.2 426.63,239.5 435.15,240.4 443.67,240.4 452.19,240.5 460.71,240.6 469.23,241 477.75,241 486.27,241 494.8,241.8 503.32,242.4 511.84,242.7 520.36,242.7 528.88,242.7 537.4,242.7" fill="none" stroke="#d62728" stroke-width="0.42" stroke-linejoin="round"/>
<path d="M331.85 202.25h2.1v2.1h-2.1zM340.37 220.75h2.1v2.1h-2.1zM348.89 225.65h2.1v2.1h-2.1zM357.41 229.35h2.1v2.1h-2.1zM365.93 233.15h2.1v2.1h-2.1zM374.45 235.45h2.1v2.1h-2.1zM382.97 236.25h2.1v2.1h-2.1zM391.5 236.25h2.1v2.1h-2.1zM400.02 236.75h2.1v2.1h-2.1zM408.54 236.75h2.1v2.1h-2.1zM417.06 237.15h2.1v2.1h-2.1zM425.58 238.45h2.1v2.1h-2.1zM434.1 239.35h2.1v2.1h-2.1zM442.62 239.35h2.1v2.1h-2.1zM451.14 239.45h2.1v2.1h-2.1zM459.66 239.55h2.1v2.1h-2.1zM468.18 239.95h2.1v2.1h-2.1zM476.7 239.95h2.1v2.1h-2.1zM485.22 239.95h2.1v2.1h-2.1zM493.75 240.75h2.1v2.1h-2.1zM502.27 241.35h2.1v2.1h-2.1zM510.79 241.65h2.1v2.1h-2.1zM519.31 241.65h2.1v2.1h-2.1zM527.83 241.65h2.1v2.1h-2.1zM536.35 241.65h2.1v2.1h-2.1z" fill="#d62728" stroke="#d62728" stroke-width="0.6" stroke-linejoin="round"/>
<polyline points="332.9,206 341.42,214.5 349.94,214.5 358.46,214.4 366.98,214.3 375.5,214.3 384.02,214.3 392.55,214.3 401.07,214.3 409.59,214.3 418.11,214.3 426.63,214.3 435.15,214.3 443.67,214.3 452.19,214.4 460.71,214.5 469.23,214.5 477.75,214.5 486.27,214.5 494.8,214.5 503.32,214.5 511.84,214.5 520.36,214.5 528.88,214.5 537.4,214.5" fill="none" stroke="#9467bd" stroke-width="0.42" stroke-linejoin="round"/>
<path d="M331.85 204.95h2.1v2.1h-2.1zM340.37 213.45h2.1v2.1h-2.1zM348.89 213.45h2.1v2.1h-2.1zM357.41 213.35h2.1v2.1h-2.1zM365.93 213.25h2.1v2.1h-2.1zM374.45 213.25h2.1v2.1h-2.1zM382.97 213.25h2.1v2.1h-2.1zM391.5 213.25h2.1v2.1h-2.1zM400.02 213.25h2.1v2.1h-2.1zM408.54 213.25h2.1v2.1h-2.1zM417.06 213.25h2.1v2.1h-2.1zM425.58 213.25h2.1v2.1h-2.1zM434.1 213.25h2.1v2.1h-2.1zM442.62 213.25h2.1v2.1h-2.1zM451.14 213.35h2.1v2.1h-2.1zM459.66 213.45h2.1v2.1h-2.1zM468.18 213.45h2.1v2.1h-2.1zM476.7 213.45h2.1v2.1h-2.1zM485.22 213.45h2.1v2.1h-2.1zM493.75 213.45h2.1v2.1h-2.1zM502.27 213.45h2.1v2.1h-2.1zM510.79 213.45h2.1v2.1h-2.1zM519.31 213.45h2.1v2.1h-2.1zM527.83 213.45h2.1v2.1h-2.1zM536.35 213.45h2.1v2.1h-2.1z" fill="#9467bd" stroke="#9467bd" stroke-width="0.6" stroke-linejoin="round"/>
<polyline points="332.9,201.8 341.42,272.7 349.94,281 358.46,289.5 366.98,299.5 375.5,304 384.02,307.7 392.55,308.6 401.07,309.2 409.59,309.5 418.11,309.8 426.63,310 435.15,310.2 443.67,310.3 452.19,310.4 460.71,310.5 469.23,310.6 477.75,310.7 486.27,310.8 494.8,311 503.32,311.2 511.84,311.4 520.36,311.6 528.88,311.8 537.4,312" fill="none" stroke="#ff0000" stroke-width="0.42" stroke-linejoin="round"/>
<path d="M331.85 200.75h2.1v2.1h-2.1zM340.37 271.65h2.1v2.1h-2.1zM348.89 279.95h2.1v2.1h-2.1zM357.41 288.45h2.1v2.1h-2.1zM365.93 298.45h2.1v2.1h-2.1zM374.45 302.95h2.1v2.1h-2.1zM382.97 306.65h2.1v2.1h-2.1zM391.5 307.55h2.1v2.1h-2.1zM400.02 308.15h2.1v2.1h-2.1zM408.54 308.45h2.1v2.1h-2.1zM417.06 308.75h2.1v2.1h-2.1zM425.58 308.95h2.1v2.1h-2.1zM434.1 309.15h2.1v2.1h-2.1zM442.62 309.25h2.1v2.1h-2.1zM451.14 309.35h2.1v2.1h-2.1zM459.66 309.45h2.1v2.1h-2.1zM468.18 309.55h2.1v2.1h-2.1zM476.7 309.65h2.1v2.1h-2.1zM485.22 309.75h2.1v2.1h-2.1zM493.75 309.95h2.1v2.1h-2.1zM502.27 310.15h2.1v2.1h-2.1zM510.79 310.35h2.1v2.1h-2.1zM519.31 310.55h2.1v2.1h-2.1zM527.83 310.75h2.1v2.1h-2.1zM536.35 310.95h2.1v2.1h-2.1z" fill="#ff0000" stroke="#ff0000" stroke-width="0.6" stroke-linejoin="round"/>
<polyline points="332.9,192.6 341.42,216.8 349.94,233 358.46,243 366.98,242.7 375.5,243 384.02,243 392.55,243 401.07,243 409.59,243 418.11,243 426.63,243 435.15,243 443.67,243 452.19,243 460.71,243 469.23,243 477.75,243 486.27,243 494.8,243 503.32,243 511.84,243 520.36,243 528.88,243 537.4,243" fill="none" stroke="#8c564b" stroke-width="0.42" stroke-linejoin="round"/>
<path d="M331.85 191.55h2.1v2.1h-2.1zM340.37 215.75h2.1v2.1h-2.1zM348.89 231.95h2.1v2.1h-2.1zM357.41 241.95h2.1v2.1h-2.1zM365.93 241.65h2.1v2.1h-2.1zM374.45 241.95h2.1v2.1h-2.1zM382.97 241.95h2.1v2.1h-2.1zM391.5 241.95h2.1v2.1h-2.1zM400.02 241.95h2.1v2.1h-2.1zM408.54 241.95h2.1v2.1h-2.1zM417.06 241.95h2.1v2.1h-2.1zM425.58 241.95h2.1v2.1h-2.1zM434.1 241.95h2.1v2.1h-2.1zM442.62 241.95h2.1v2.1h-2.1zM451.14 241.95h2.1v2.1h-2.1zM459.66 241.95h2.1v2.1h-2.1zM468.18 241.95h2.1v2.1h-2.1zM476.7 241.95h2.1v2.1h-2.1zM485.22 241.95h2.1v2.1h-2.1zM493.75 241.95h2.1v2.1h-2.1zM502.27 241.95h2.1v2.1h-2.1zM510.79 241.95h2.1v2.1h-2.1zM519.31 241.95h2.1v2.1h-2.1zM527.83 241.95h2.1v2.1h-2.1zM536.35 241.95h2.1v2.1h-2.1z" fill="#8c564b" stroke="#8c564b" stroke-width="0.6" stroke-linejoin="round"/>
<polyline points="332.9,195 341.42,214.5 349.94,242.4 358.46,243.6 366.98,243.6 375.5,243.8 384.02,244 392.55,244 401.07,251.5 409.59,251.6 418.11,251.8 426.63,251.8 435.15,251.8 443.67,251.8 452.19,251.8 460.71,251.8 469.23,251.8 477.75,251.8 486.27,251.8 494.8,251.8 503.32,251.8 511.84,251.8 520.36,251.8 528.88,251.8 537.4,251.8" fill="none" stroke="#e377c2" stroke-width="0.42" stroke-linejoin="round"/>
<path d="M331.85 193.95h2.1v2.1h-2.1zM340.37 213.45h2.1v2.1h-2.1zM348.89 241.35h2.1v2.1h-2.1zM357.41 242.55h2.1v2.1h-2.1zM365.93 242.55h2.1v2.1h-2.1zM374.45 242.75h2.1v2.1h-2.1zM382.97 242.95h2.1v2.1h-2.1zM391.5 242.95h2.1v2.1h-2.1zM400.02 250.45h2.1v2.1h-2.1zM408.54 250.55h2.1v2.1h-2.1zM417.06 250.75h2.1v2.1h-2.1zM425.58 250.75h2.1v2.1h-2.1zM434.1 250.75h2.1v2.1h-2.1zM442.62 250.75h2.1v2.1h-2.1zM451.14 250.75h2.1v2.1h-2.1zM459.66 250.75h2.1v2.1h-2.1zM468.18 250.75h2.1v2.1h-2.1zM476.7 250.75h2.1v2.1h-2.1zM485.22 250.75h2.1v2.1h-2.1zM493.75 250.75h2.1v2.1h-2.1zM502.27 250.75h2.1v2.1h-2.1zM510.79 250.75h2.1v2.1h-2.1zM519.31 250.75h2.1v2.1h-2.1zM527.83 250.75h2.1v2.1h-2.1zM536.35 250.75h2.1v2.1h-2.1z" fill="#e377c2" stroke="#e377c2" stroke-width="0.6" stroke-linejoin="round"/>
<polyline points="332.9,216.4 341.42,260 349.94,261 358.46,261.3 366.98,261.5 375.5,261.5 384.02,261.7 392.55,261.9 401.07,262.1 409.59,262.4 418.11,262.7 426.63,262.9 435.15,263 443.67,263.2 452.19,263.3 460.71,263.5 469.23,263.6 477.75,263.6 486.27,263.6 494.8,263.6 503.32,263.6 511.84,263.6 520.36,263.6 528.88,263.6 537.4,263.6" fill="none" stroke="#7f7f7f" stroke-width="0.42" stroke-linejoin="round"/>
<path d="M331.85 215.35h2.1v2.1h-2.1zM340.37 258.95h2.1v2.1h-2.1zM348.89 259.95h2.1v2.1h-2.1zM357.41 260.25h2.1v2.1h-2.1zM365.93 260.45h2.1v2.1h-2.1zM374.45 260.45h2.1v2.1h-2.1zM382.97 260.65h2.1v2.1h-2.1zM391.5 260.85h2.1v2.1h-2.1zM400.02 261.05h2.1v2.1h-2.1zM408.54 261.35h2.1v2.1h-2.1zM417.06 261.65h2.1v2.1h-2.1zM425.58 261.85h2.1v2.1h-2.1zM434.1 261.95h2.1v2.1h-2.1zM442.62 262.15h2.1v2.1h-2.1zM451.14 262.25h2.1v2.1h-2.1zM459.66 262.45h2.1v2.1h-2.1zM468.18 262.55h2.1v2.1h-2.1zM476.7 262.55h2.1v2.1h-2.1zM485.22 262.55h2.1v2.1h-2.1zM493.75 262.55h2.1v2.1h-2.1zM502.27 262.55h2.1v2.1h-2.1zM510.79 262.55h2.1v2.1h-2.1zM519.31 262.55h2.1v2.1h-2.1zM527.83 262.55h2.1v2.1h-2.1zM536.35 262.55h2.1v2.1h-2.1z" fill="#7f7f7f" stroke="#7f7f7f" stroke-width="0.6" stroke-linejoin="round"/>
</g>
<rect x="322.7" y="186.7" width="225.1" height="131.2" fill="none" stroke="#555" stroke-width="0.5"/>
<path d="M332.9 317.9v1.4M373.8 317.9v1.4M414.7 317.9v1.4M455.6 317.9v1.4M496.5 317.9v1.4M537.4 317.9v1.4M322.7 188.2h-1.4M322.7 209.4h-1.4M322.7 231.6h-1.4M322.7 253.6h-1.4M322.7 275.7h-1.4M322.7 297.6h-1.4M322.7 198.05h-0.8M322.7 220.25h-0.8M322.7 242.45h-0.8M322.7 264.5h-0.8M322.7 286.5h-0.8M322.7 308.5h-0.8" stroke="#333" stroke-width="0.4" fill="none"/>
<text class="s" transform="translate(332.9 324.23) rotate(0.03)" text-anchor="middle">0</text>
<text class="s" transform="translate(373.8 324.23) rotate(0.03)" text-anchor="middle">100</text>
<text class="s" transform="translate(414.7 324.23) rotate(0.03)" text-anchor="middle">200</text>
<text class="s" transform="translate(455.6 324.23) rotate(0.03)" text-anchor="middle">300</text>
<text class="s" transform="translate(496.5 324.23) rotate(0.03)" text-anchor="middle">400</text>
<text class="s" transform="translate(537.4 324.23) rotate(0.03)" text-anchor="middle">500</text>
<text class="s" transform="translate(320.1 189.63) rotate(0.03)" text-anchor="end">10<tspan dy="-1.5" font-size="2.73">16</tspan></text>
<text class="s" transform="translate(320.1 210.83) rotate(0.03)" text-anchor="end">10<tspan dy="-1.5" font-size="2.73">14</tspan></text>
<text class="s" transform="translate(320.1 233.03) rotate(0.03)" text-anchor="end">10<tspan dy="-1.5" font-size="2.73">12</tspan></text>
<text class="s" transform="translate(320.1 255.03) rotate(0.03)" text-anchor="end">10<tspan dy="-1.5" font-size="2.73">10</tspan></text>
<text class="s" transform="translate(320.1 277.13) rotate(0.03)" text-anchor="end">10<tspan dy="-1.5" font-size="2.73">8</tspan></text>
<text class="s" transform="translate(320.1 299.03) rotate(0.03)" text-anchor="end">10<tspan dy="-1.5" font-size="2.73">6</tspan></text>
<text class="s" transform="translate(435.4 329.93) rotate(0.03)" text-anchor="middle">Iteration</text>
<text class="s" transform="translate(308.63 252.8) rotate(-90.03)" text-anchor="middle">Average Fitness Value</text>
<rect x="324.5" y="262.2" width="31.5" height="53.3" rx="0.8" fill="#fff" fill-opacity="0.8" stroke="#d6d6d6" stroke-width="0.4"/>
<path d="M326 264.5H334.5" stroke="#1f77b4" stroke-width="0.65"/>
<rect x="329.05" y="263.15" width="2.7" height="2.7" fill="#1f77b4"/>
<text class="s" transform="translate(337.6 266.33) rotate(0.03)">WOA</text>
<path d="M326 270.46H334.5" stroke="#ff7f0e" stroke-width="0.65"/>
<rect x="329.05" y="269.11" width="2.7" height="2.7" fill="#ff7f0e"/>
<text class="s" transform="translate(337.6 272.29) rotate(0.03)">CSA</text>
<path d="M326 276.42H334.5" stroke="#2ca02c" stroke-width="0.65"/>
<rect x="329.05" y="275.07" width="2.7" height="2.7" fill="#2ca02c"/>
<text class="s" transform="translate(337.6 278.25) rotate(0.03)">HHO</text>
<path d="M326 282.38H334.5" stroke="#d62728" stroke-width="0.65"/>
<rect x="329.05" y="281.03" width="2.7" height="2.7" fill="#d62728"/>
<text class="s" transform="translate(337.6 284.21) rotate(0.03)">EHO</text>
<path d="M326 288.34H334.5" stroke="#9467bd" stroke-width="0.65"/>
<rect x="329.05" y="286.99" width="2.7" height="2.7" fill="#9467bd"/>
<text class="s" transform="translate(337.6 290.17) rotate(0.03)">BES</text>
<path d="M326 294.3H334.5" stroke="#ff0000" stroke-width="0.65"/>
<rect x="329.05" y="292.95" width="2.7" height="2.7" fill="#ff0000"/>
<text class="s" transform="translate(337.6 296.13) rotate(0.03)">IntWOA</text>
<path d="M326 300.26H334.5" stroke="#8c564b" stroke-width="0.65"/>
<rect x="329.05" y="298.91" width="2.7" height="2.7" fill="#8c564b"/>
<text class="s" transform="translate(337.6 302.09) rotate(0.03)">IntWOA1</text>
<path d="M326 306.22H334.5" stroke="#e377c2" stroke-width="0.65"/>
<rect x="329.05" y="304.87" width="2.7" height="2.7" fill="#e377c2"/>
<text class="s" transform="translate(337.6 308.05) rotate(0.03)">IntWOA2</text>
<path d="M326 312.18H334.5" stroke="#7f7f7f" stroke-width="0.65"/>
<rect x="329.05" y="310.83" width="2.7" height="2.7" fill="#7f7f7f"/>
<text class="s" transform="translate(337.6 314.01) rotate(0.03)">IntWOA3</text>
<text class="t" transform="translate(426.8 345.95) rotate(0.03)" text-anchor="middle">F28</text>
</g>
<g id="F29">
<defs><clipPath id="cp4"><rect x="171.5" y="367.7" width="224.9" height="131.1"/></clipPath></defs>
<path d="M181.2 367.7V498.8M222.3 367.7V498.8M263.4 367.7V498.8M304.5 367.7V498.8M345.6 367.7V498.8M386.7 367.7V498.8M171.5 372.4H396.4M171.5 399.5H396.4M171.5 426.8H396.4M171.5 454H396.4M171.5 481H396.4" stroke="#b8b8b8" stroke-width="0.42" fill="none"/>
<g clip-path="url(#cp4)">
<polyline points="181.2,398.6 189.76,416 198.32,421 206.89,425 215.45,426.4 224.01,427.3 232.57,427.3 241.14,428.2 249.7,428.2 258.26,431.8 266.82,432.7 275.39,439 283.95,442.4 292.51,443 301.07,443.3 309.64,444 318.2,444.5 326.76,445 335.32,445.5 343.89,446 352.45,446.4 361.01,447 369.57,447.6 378.14,448.2 386.7,448.5" fill="none" stroke="#1f77b4" stroke-width="0.42" stroke-linejoin="round"/>
<path d="M180.15 397.55h2.1v2.1h-2.1zM188.71 414.95h2.1v2.1h-2.1zM197.27 419.95h2.1v2.1h-2.1zM205.84 423.95h2.1v2.1h-2.1zM214.4 425.35h2.1v2.1h-2.1zM222.96 426.25h2.1v2.1h-2.1zM231.52 426.25h2.1v2.1h-2.1zM240.09 427.15h2.1v2.1h-2.1zM248.65 427.15h2.1v2.1h-2.1zM257.21 430.75h2.1v2.1h-2.1zM265.77 431.65h2.1v2.1h-2.1zM274.34 437.95h2.1v2.1h-2.1zM282.9 441.35h2.1v2.1h-2.1zM291.46 441.95h2.1v2.1h-2.1zM300.02 442.25h2.1v2.1h-2.1zM308.59 442.95h2.1v2.1h-2.1zM317.15 443.45h2.1v2.1h-2.1zM325.71 443.95h2.1v2.1h-2.1zM334.27 444.45h2.1v2.1h-2.1zM342.84 444.95h2.1v2.1h-2.1zM351.4 445.35h2.1v2.1h-2.1zM359.96 445.95h2.1v2.1h-2.1zM368.52 446.55h2.1v2.1h-2.1zM377.09 447.15h2.1v2.1h-2.1zM385.65 447.45h2.1v2.1h-2.1z" fill="#1f77b4" stroke="#1f77b4" stroke-width="0.6" stroke-linejoin="round"/>
<polyline points="181.2,379 189.76,397.3 198.32,401.8 206.89,404.2 215.45,408.2 224.01,410.4 232.57,411 241.14,413.3 249.7,414.2 258.26,415 266.82,415.5 275.39,416.4 283.95,416.4 292.51,416.4 301.07,416.7 309.64,417.6 318.2,417.6 326.76,418.2 335.32,418.2 343.89,418.5 352.45,418.5 361.01,418.5 369.57,419.5 378.14,420.4 386.7,420.4" fill="none" stroke="#ff7f0e" stroke-width="0.42" stroke-linejoin="round"/>
<path d="M180.15 377.95h2.1v2.1h-2.1zM188.71 396.25h2.1v2.1h-2.1zM197.27 400.75h2.1v2.1h-2.1zM205.84 403.15h2.1v2.1h-2.1zM214.4 407.15h2.1v2.1h-2.1zM222.96 409.35h2.1v2.1h-2.1zM231.52 409.95h2.1v2.1h-2.1zM240.09 412.25h2.1v2.1h-2.1zM248.65 413.15h2.1v2.1h-2.1zM257.21 413.95h2.1v2.1h-2.1zM265.77 414.45h2.1v2.1h-2.1zM274.34 415.35h2.1v2.1h-2.1zM282.9 415.35h2.1v2.1h-2.1zM291.46 415.35h2.1v2.1h-2.1zM300.02 415.65h2.1v2.1h-2.1zM308.59 416.55h2.1v2.1h-2.1zM317.15 416.55h2.1v2.1h-2.1zM325.71 417.15h2.1v2.1h-2.1zM334.27 417.15h2.1v2.1h-2.1zM342.84 417.45h2.1v2.1h-2.1zM351.4 417.45h2.1v2.1h-2.1zM359.96 417.45h2.1v2.1h-2.1zM368.52 418.45h2.1v2.1h-2.1zM377.09 419.35h2.1v2.1h-2.1zM385.65 419.35h2.1v2.1h-2.1z" fill="#ff7f0e" stroke="#ff7f0e" stroke-width="0.6" stroke-linejoin="round"/>
<polyline points="181.2,387.3 189.76,405.5 198.32,412.4 206.89,417.3 215.45,422.7 224.01,427 232.57,429.6 241.14,432.4 249.7,434.5 258.26,438.2 266.82,440.4 275.39,441.5 283.95,442.7 292.51,444 301.07,444.5 309.64,445.5 318.2,446.4 326.76,447 335.32,447.6 343.89,448.2 352.45,448.5 361.01,449 369.57,450 378.14,451.3 386.7,452.4" fill="none" stroke="#2ca02c" stroke-width="0.42" stroke-linejoin="round"/>
<path d="M180.15 386.25h2.1v2.1h-2.1zM188.71 404.45h2.1v2.1h-2.1zM197.27 411.35h2.1v2.1h-2.1zM205.84 416.25h2.1v2.1h-2.1zM214.4 421.65h2.1v2.1h-2.1zM222.96 425.95h2.1v2.1h-2.1zM231.52 428.55h2.1v2.1h-2.1zM240.09 431.35h2.1v2.1h-2.1zM248.65 433.45h2.1v2.1h-2.1zM257.21 437.15h2.1v2.1h-2.1zM265.77 439.35h2.1v2.1h-2.1zM274.34 440.45h2.1v2.1h-2.1zM282.9 441.65h2.1v2.1h-2.1zM291.46 442.95h2.1v2.1h-2.1zM300.02 443.45h2.1v2.1h-2.1zM308.59 444.45h2.1v2.1h-2.1zM317.15 445.35h2.1v2.1h-2.1zM325.71 445.95h2.1v2.1h-2.1zM334.27 446.55h2.1v2.1h-2.1zM342.84 447.15h2.1v2.1h-2.1zM351.4 447.45h2.1v2.1h-2.1zM359.96 447.95h2.1v2.1h-2.1zM368.52 448.95h2.1v2.1h-2.1zM377.09 450.25h2.1v2.1h-2.1zM385.65 451.35h2.1v2.1h-2.1z" fill="#2ca02c" stroke="#2ca02c" stroke-width="0.6" stroke-linejoin="round"/>
<polyline points="181.2,387.3 189.76,414 198.32,418.5 206.89,421.8 215.45,425.5 224.01,427 232.57,427.7 241.14,428.7 249.7,429 258.26,430 266.82,430.4 275.39,433.6 283.95,434.5 292.51,435 301.07,435.5 309.64,436.7 318.2,437.8 326.76,438.3 335.32,438.5 343.89,438.6 352.45,438.8 361.01,438.9 369.57,439 378.14,439.3 386.7,439.5" fill="none" stroke="#d62728" stroke-width="0.42" stroke-linejoin="round"/>
<path d="M180.15 386.25h2.1v2.1h-2.1zM188.71 412.95h2.1v2.1h-2.1zM197.27 417.45h2.1v2.1h-2.1zM205.84 420.75h2.1v2.1h-2.1zM214.4 424.45h2.1v2.1h-2.1zM222.96 425.95h2.1v2.1h-2.1zM231.52 426.65h2.1v2.1h-2.1zM240.09 427.65h2.1v2.1h-2.1zM248.65 427.95h2.1v2.1h-2.1zM257.21 428.95h2.1v2.1h-2.1zM265.77 429.35h2.1v2.1h-2.1zM274.34 432.55h2.1v2.1h-2.1zM282.9 433.45h2.1v2.1h-2.1zM291.46 433.95h2.1v2.1h-2.1zM300.02 434.45h2.1v2.1h-2.1zM308.59 435.65h2.1v2.1h-2.1zM317.15 436.75h2.1v2.1h-2.1zM325.71 437.25h2.1v2.1h-2.1zM334.27 437.45h2.1v2.1h-2.1zM342.84 437.55h2.1v2.1h-2.1zM351.4 437.75h2.1v2.1h-2.1zM359.96 437.85h2.1v2.1h-2.1zM368.52 437.95h2.1v2.1h-2.1zM377.09 438.25h2.1v2.1h-2.1zM385.65 438.45h2.1v2.1h-2.1z" fill="#d62728" stroke="#d62728" stroke-width="0.6" stroke-linejoin="round"/>
<polyline points="181.2,386 189.76,420.4 198.32,420.4 206.89,420.4 215.45,420.4 224.01,420.4 232.57,420.4 241.14,420.4 249.7,420.4 258.26,420.4 266.82,420.4 275.39,420.4 283.95,420.4 292.51,420.4 301.07,420.4 309.64,420.5 318.2,420.5 326.76,420.5 335.32,420.5 343.89,420.5 352.45,420.5 361.01,420.5 369.57,420.5 378.14,420.5 386.7,420.5" fill="none" stroke="#9467bd" stroke-width="0.42" stroke-linejoin="round"/>
<path d="M180.15 384.95h2.1v2.1h-2.1zM188.71 419.35h2.1v2.1h-2.1zM197.27 419.35h2.1v2.1h-2.1zM205.84 419.35h2.1v2.1h-2.1zM214.4 419.35h2.1v2.1h-2.1zM222.96 419.35h2.1v2.1h-2.1zM231.52 419.35h2.1v2.1h-2.1zM240.09 419.35h2.1v2.1h-2.1zM248.65 419.35h2.1v2.1h-2.1zM257.21 419.35h2.1v2.1h-2.1zM265.77 419.35h2.1v2.1h-2.1zM274.34 419.35h2.1v2.1h-2.1zM282.9 419.35h2.1v2.1h-2.1zM291.46 419.35h2.1v2.1h-2.1zM300.02 419.35h2.1v2.1h-2.1zM308.59 419.45h2.1v2.1h-2.1zM317.15 419.45h2.1v2.1h-2.1zM325.71 419.45h2.1v2.1h-2.1zM334.27 419.45h2.1v2.1h-2.1zM342.84 419.45h2.1v2.1h-2.1zM351.4 419.45h2.1v2.1h-2.1zM359.96 419.45h2.1v2.1h-2.1zM368.52 419.45h2.1v2.1h-2.1zM377.09 419.45h2.1v2.1h-2.1zM385.65 419.45h2.1v2.1h-2.1z" fill="#9467bd" stroke="#9467bd" stroke-width="0.6" stroke-linejoin="round"/>
<polyline points="181.2,397.8 189.76,455 198.32,464.2 206.89,468.2 215.45,470.4 224.01,474.2 232.57,476.2 241.14,477.2 249.7,478.3 258.26,481 266.82,482.5 275.39,483.5 283.95,483.5 292.51,485.2 301.07,486.8 309.64,488.4 318.2,489.7 326.76,489.7 335.32,490 343.89,490.7 352.45,491.4 361.01,491.7 369.57,492 378.14,493 386.7,493.3" fill="none" stroke="#ff0000" stroke-width="0.42" stroke-linejoin="round"/>
<path d="M180.15 396.75h2.1v2.1h-2.1zM188.71 453.95h2.1v2.1h-2.1zM197.27 463.15h2.1v2.1h-2.1zM205.84 467.15h2.1v2.1h-2.1zM214.4 469.35h2.1v2.1h-2.1zM222.96 473.15h2.1v2.1h-2.1zM231.52 475.15h2.1v2.1h-2.1zM240.09 476.15h2.1v2.1h-2.1zM248.65 477.25h2.1v2.1h-2.1zM257.21 479.95h2.1v2.1h-2.1zM265.77 481.45h2.1v2.1h-2.1zM274.34 482.45h2.1v2.1h-2.1zM282.9 482.45h2.1v2.1h-2.1zM291.46 484.15h2.1v2.1h-2.1zM300.02 485.75h2.1v2.1h-2.1zM308.59 487.35h2.1v2.1h-2.1zM317.15 488.65h2.1v2.1h-2.1zM325.71 488.65h2.1v2.1h-2.1zM334.27 488.95h2.1v2.1h-2.1zM342.84 489.65h2.1v2.1h-2.1zM351.4 490.35h2.1v2.1h-2.1zM359.96 490.65h2.1v2.1h-2.1zM368.52 490.95h2.1v2.1h-2.1zM377.09 491.95h2.1v2.1h-2.1zM385.65 492.25h2.1v2.1h-2.1z" fill="#ff0000" stroke="#ff0000" stroke-width="0.6" stroke-linejoin="round"/>
<polyline points="181.2,373.6 189.76,404.5 198.32,425.5 206.89,429.6 215.45,430 224.01,430 232.57,430 241.14,430 249.7,430 258.26,430 266.82,430 275.39,430 283.95,430.1 292.51,430.2 301.07,430.3 309.64,430.4 318.2,430.4 326.76,430.4 335.32,430.4 343.89,430.4 352.45,430.4 361.01,430.4 369.57,430.4 378.14,430.4 386.7,430.4" fill="none" stroke="#8c564b" stroke-width="0.42" stroke-linejoin="round"/>
<path d="M180.15 372.55h2.1v2.1h-2.1zM188.71 403.45h2.1v2.1h-2.1zM197.27 424.45h2.1v2.1h-2.1zM205.84 428.55h2.1v2.1h-2.1zM214.4 428.95h2.1v2.1h-2.1zM222.96 428.95h2.1v2.1h-2.1zM231.52 428.95h2.1v2.1h-2.1zM240.09 428.95h2.1v2.1h-2.1zM248.65 428.95h2.1v2.1h-2.1zM257.21 428.95h2.1v2.1h-2.1zM265.77 428.95h2.1v2.1h-2.1zM274.34 428.95h2.1v2.1h-2.1zM282.9 429.05h2.1v2.1h-2.1zM291.46 429.15h2.1v2.1h-2.1zM300.02 429.25h2.1v2.1h-2.1zM308.59 429.35h2.1v2.1h-2.1zM317.15 429.35h2.1v2.1h-2.1zM325.71 429.35h2.1v2.1h-2.1zM334.27 429.35h2.1v2.1h-2.1zM342.84 429.35h2.1v2.1h-2.1zM351.4 429.35h2.1v2.1h-2.1zM359.96 429.35h2.1v2.1h-2.1zM368.52 429.35h2.1v2.1h-2.1zM377.09 429.35h2.1v2.1h-2.1zM385.65 429.35h2.1v2.1h-2.1z" fill="#8c564b" stroke="#8c564b" stroke-width="0.6" stroke-linejoin="round"/>
<polyline points="181.2,384.5 189.76,436.4 198.32,437.3 206.89,437.3 215.45,437.3 224.01,437.4 232.57,437.4 241.14,437.5 249.7,437.5 258.26,437.6 266.82,437.6 275.39,437.6 283.95,437.6 292.51,437.7 301.07,437.7 309.64,437.8 318.2,437.8 326.76,437.8 335.32,437.8 343.89,437.8 352.45,437.8 361.01,437.8 369.57,437.8 378.14,437.8 386.7,437.8" fill="none" stroke="#e377c2" stroke-width="0.42" stroke-linejoin="round"/>
<path d="M180.15 383.45h2.1v2.1h-2.1zM188.71 435.35h2.1v2.1h-2.1zM197.27 436.25h2.1v2.1h-2.1zM205.84 436.25h2.1v2.1h-2.1zM214.4 436.25h2.1v2.1h-2.1zM222.96 436.35h2.1v2.1h-2.1zM231.52 436.35h2.1v2.1h-2.1zM240.09 436.45h2.1v2.1h-2.1zM248.65 436.45h2.1v2.1h-2.1zM257.21 436.55h2.1v2.1h-2.1zM265.77 436.55h2.1v2.1h-2.1zM274.34 436.55h2.1v2.1h-2.1zM282.9 436.55h2.1v2.1h-2.1zM291.46 436.65h2.1v2.1h-2.1zM300.02 436.65h2.1v2.1h-2.1zM308.59 436.75h2.1v2.1h-2.1zM317.15 436.75h2.1v2.1h-2.1zM325.71 436.75h2.1v2.1h-2.1zM334.27 436.75h2.1v2.1h-2.1zM342.84 436.75h2.1v2.1h-2.1zM351.4 436.75h2.1v2.1h-2.1zM359.96 436.75h2.1v2.1h-2.1zM368.52 436.75h2.1v2.1h-2.1zM377.09 436.75h2.1v2.1h-2.1zM385.65 436.75h2.1v2.1h-2.1z" fill="#e377c2" stroke="#e377c2" stroke-width="0.6" stroke-linejoin="round"/>
<polyline points="181.2,405.5 189.76,428.5 198.32,438.3 206.89,447.3 215.45,449 224.01,450.5 232.57,453.6 241.14,456.8 249.7,457.6 258.26,459 266.82,460 275.39,461.3 283.95,461.8 292.51,461.8 301.07,461.8 309.64,461.8 318.2,461.8 326.76,461.8 335.32,461.8 343.89,461.8 352.45,461.8 361.01,461.8 369.57,461.8 378.14,461.8 386.7,461.8" fill="none" stroke="#7f7f7f" stroke-width="0.42" stroke-linejoin="round"/>
<path d="M180.15 404.45h2.1v2.1h-2.1zM188.71 427.45h2.1v2.1h-2.1zM197.27 437.25h2.1v2.1h-2.1zM205.84 446.25h2.1v2.1h-2.1zM214.4 447.95h2.1v2.1h-2.1zM222.96 449.45h2.1v2.1h-2.1zM231.52 452.55h2.1v2.1h-2.1zM240.09 455.75h2.1v2.1h-2.1zM248.65 456.55h2.1v2.1h-2.1zM257.21 457.95h2.1v2.1h-2.1zM265.77 458.95h2.1v2.1h-2.1zM274.34 460.25h2.1v2.1h-2.1zM282.9 460.75h2.1v2.1h-2.1zM291.46 460.75h2.1v2.1h-2.1zM300.02 460.75h2.1v2.1h-2.1zM308.59 460.75h2.1v2.1h-2.1zM317.15 460.75h2.1v2.1h-2.1zM325.71 460.75h2.1v2.1h-2.1zM334.27 460.75h2.1v2.1h-2.1zM342.84 460.75h2.1v2.1h-2.1zM351.4 460.75h2.1v2.1h-2.1zM359.96 460.75h2.1v2.1h-2.1zM368.52 460.75h2.1v2.1h-2.1zM377.09 460.75h2.1v2.1h-2.1zM385.65 460.75h2.1v2.1h-2.1z" fill="#7f7f7f" stroke="#7f7f7f" stroke-width="0.6" stroke-linejoin="round"/>
</g>
<rect x="171.5" y="367.7" width="224.9" height="131.1" fill="none" stroke="#555" stroke-width="0.5"/>
<path d="M181.2 498.8v1.4M222.3 498.8v1.4M263.4 498.8v1.4M304.5 498.8v1.4M345.6 498.8v1.4M386.7 498.8v1.4M171.5 372.7h-1.4M171.5 400h-1.4M171.5 427.1h-1.4M171.5 454.2h-1.4M171.5 481.3h-1.4M171.5 385.95h-0.8M171.5 413.15h-0.8M171.5 440.4h-0.8M171.5 467.5h-0.8M171.5 494.6h-0.8" stroke="#333" stroke-width="0.4" fill="none"/>
<text class="s" transform="translate(181.2 505.33) rotate(0.03)" text-anchor="middle">0</text>
<text class="s" transform="translate(222.3 505.33) rotate(0.03)" text-anchor="middle">100</text>
<text class="s" transform="translate(263.4 505.33) rotate(0.03)" text-anchor="middle">200</text>
<text class="s" transform="translate(304.5 505.33) rotate(0.03)" text-anchor="middle">300</text>
<text class="s" transform="translate(345.6 505.33) rotate(0.03)" text-anchor="middle">400</text>
<text class="s" transform="translate(386.7 505.33) rotate(0.03)" text-anchor="middle">500</text>
<text class="s" transform="translate(168.9 374.13) rotate(0.03)" text-anchor="end">10<tspan dy="-1.5" font-size="2.73">15</tspan></text>
<text class="s" transform="translate(168.9 401.43) rotate(0.03)" text-anchor="end">10<tspan dy="-1.5" font-size="2.73">13</tspan></text>
<text class="s" transform="translate(168.9 428.53) rotate(0.03)" text-anchor="end">10<tspan dy="-1.5" font-size="2.73">11</tspan></text>
<text class="s" transform="translate(168.9 455.63) rotate(0.03)" text-anchor="end">10<tspan dy="-1.5" font-size="2.73">9</tspan></text>
<text class="s" transform="translate(168.9 482.73) rotate(0.03)" text-anchor="end">10<tspan dy="-1.5" font-size="2.73">7</tspan></text>
<text class="s" transform="translate(284 510.83) rotate(0.03)" text-anchor="middle">Iteration</text>
<text class="s" transform="translate(157.13 433.5) rotate(-90.03)" text-anchor="middle">Average Fitness Value</text>
<rect x="173.3" y="441.8" width="31.7" height="55.5" rx="0.8" fill="#fff" fill-opacity="0.8" stroke="#d6d6d6" stroke-width="0.4"/>
<path d="M175 446H183.3" stroke="#1f77b4" stroke-width="0.65"/>
<rect x="177.65" y="444.65" width="2.7" height="2.7" fill="#1f77b4"/>
<text class="s" transform="translate(186.4 447.83) rotate(0.03)">WOA</text>
<path d="M175 451.94H183.3" stroke="#ff7f0e" stroke-width="0.65"/>
<rect x="177.65" y="450.59" width="2.7" height="2.7" fill="#ff7f0e"/>
<text class="s" transform="translate(186.4 453.77) rotate(0.03)">CSA</text>
<path d="M175 457.88H183.3" stroke="#2ca02c" stroke-width="0.65"/>
<rect x="177.65" y="456.53" width="2.7" height="2.7" fill="#2ca02c"/>
<text class="s" transform="translate(186.4 459.71) rotate(0.03)">HHO</text>
<path d="M175 463.82H183.3" stroke="#d62728" stroke-width="0.65"/>
<rect x="177.65" y="462.47" width="2.7" height="2.7" fill="#d62728"/>
<text class="s" transform="translate(186.4 465.65) rotate(0.03)">EHO</text>
<path d="M175 469.76H183.3" stroke="#9467bd" stroke-width="0.65"/>
<rect x="177.65" y="468.41" width="2.7" height="2.7" fill="#9467bd"/>
<text class="s" transform="translate(186.4 471.59) rotate(0.03)">BES</text>
<path d="M175 475.7H183.3" stroke="#ff0000" stroke-width="0.65"/>
<rect x="177.65" y="474.35" width="2.7" height="2.7" fill="#ff0000"/>
<text class="s" transform="translate(186.4 477.53) rotate(0.03)">IntWOA</text>
<path d="M175 481.64H183.3" stroke="#8c564b" stroke-width="0.65"/>
<rect x="177.65" y="480.29" width="2.7" height="2.7" fill="#8c564b"/>
<text class="s" transform="translate(186.4 483.47) rotate(0.03)">IntWOA1</text>
<path d="M175 487.58H183.3" stroke="#e377c2" stroke-width="0.65"/>
<rect x="177.65" y="486.23" width="2.7" height="2.7" fill="#e377c2"/>
<text class="s" transform="translate(186.4 489.41) rotate(0.03)">IntWOA2</text>
<path d="M175 493.52H183.3" stroke="#7f7f7f" stroke-width="0.65"/>
<rect x="177.65" y="492.17" width="2.7" height="2.7" fill="#7f7f7f"/>
<text class="s" transform="translate(186.4 495.35) rotate(0.03)">IntWOA3</text>
<text class="t" transform="translate(275.2 527.55) rotate(0.03)" text-anchor="middle">F29</text>
</g>
</svg></body></html>
